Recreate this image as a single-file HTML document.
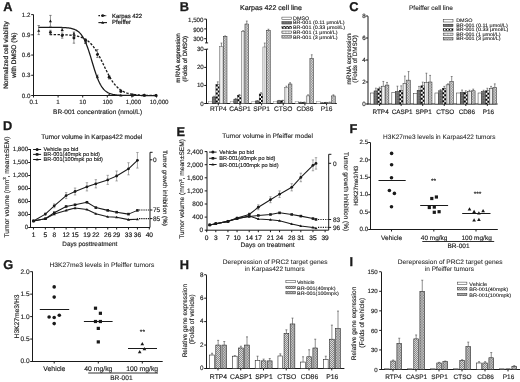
<!DOCTYPE html>
<html><head><meta charset="utf-8"><title>BR-001 figure</title>
<style>html,body{margin:0;padding:0;background:#fff;width:520px;height:382px;overflow:hidden}svg{display:block}</style>
</head><body>
<svg width="520" height="382" viewBox="0 0 520 382" font-family="&apos;Liberation Sans&apos;, Arial, Helvetica, sans-serif" fill="#1a1a1a" text-rendering="geometricPrecision"><style>text{stroke:#1a1a1a;stroke-width:0.14;paint-order:stroke}</style><defs>
<pattern id="p011" width="1.6" height="1.6" patternUnits="userSpaceOnUse">
  <rect width="1.6" height="1.6" fill="#7a7a7a"/><rect width="0.8" height="0.8" fill="#555"/>
</pattern>
<pattern id="p033" width="3.0" height="3.4" patternUnits="userSpaceOnUse">
  <rect width="3.0" height="3.4" fill="#fff"/>
  <rect width="1.5" height="1.7" fill="#000"/><rect x="1.5" y="1.7" width="1.5" height="1.7" fill="#000"/>
</pattern>
<pattern id="p1" width="1.5" height="4" patternUnits="userSpaceOnUse">
  <rect width="1.5" height="4" fill="#f8f8f8"/><rect width="0.45" height="4" fill="#a8a8a8"/>
</pattern>
<pattern id="p3" width="1.6" height="1.6" patternUnits="userSpaceOnUse">
  <rect width="1.6" height="1.6" fill="#ececec"/><rect width="0.8" height="0.8" fill="#7c7c7c"/><rect x="0.8" y="0.8" width="0.8" height="0.8" fill="#7c7c7c"/>
</pattern>
<pattern id="pH2" width="2" height="2" patternUnits="userSpaceOnUse">
  <rect width="2" height="2" fill="#d8d8d8"/><path d="M0,2 L2,0" stroke="#555" stroke-width="0.6"/>
</pattern>
<pattern id="pH3" width="1.6" height="1.6" patternUnits="userSpaceOnUse">
  <rect width="1.6" height="1.6" fill="#dcdcdc"/><rect width="0.8" height="0.8" fill="#707070"/><rect x="0.8" y="0.8" width="0.8" height="0.8" fill="#707070"/>
</pattern>
</defs><rect width="520" height="382" fill="#fff"/><text x="3.2" y="11" font-size="12.8" style="stroke-width:0.3" font-weight="bold">A</text>
<line x1="33.5" y1="14.6" x2="33.5" y2="95.95" stroke="#1a1a1a" stroke-width="1"/>
<line x1="33.05" y1="95.5" x2="156.3" y2="95.5" stroke="#1a1a1a" stroke-width="1"/>
<line x1="31.2" y1="95.5" x2="33.5" y2="95.5" stroke="#1a1a1a" stroke-width="1"/>
<text x="30.4" y="97.5" font-size="6.2" text-anchor="end">0.0</text>
<line x1="31.2" y1="75.28" x2="33.5" y2="75.28" stroke="#1a1a1a" stroke-width="1"/>
<text x="30.4" y="77.28" font-size="6.2" text-anchor="end">0.3</text>
<line x1="31.2" y1="55.06" x2="33.5" y2="55.06" stroke="#1a1a1a" stroke-width="1"/>
<text x="30.4" y="57.06" font-size="6.2" text-anchor="end">0.6</text>
<line x1="31.2" y1="34.84" x2="33.5" y2="34.84" stroke="#1a1a1a" stroke-width="1"/>
<text x="30.4" y="36.84" font-size="6.2" text-anchor="end">0.9</text>
<line x1="31.2" y1="14.62" x2="33.5" y2="14.62" stroke="#1a1a1a" stroke-width="1"/>
<text x="30.4" y="16.62" font-size="6.2" text-anchor="end">1.2</text>
<line x1="33.5" y1="95.5" x2="33.5" y2="97.5" stroke="#1a1a1a" stroke-width="1"/>
<text x="33.8" y="103.7" font-size="6.2" text-anchor="middle">0.1</text>
<line x1="58.1" y1="95.5" x2="58.1" y2="97.5" stroke="#1a1a1a" stroke-width="1"/>
<text x="58.1" y="103.7" font-size="6.2" text-anchor="middle">1</text>
<line x1="82.7" y1="95.5" x2="82.7" y2="97.5" stroke="#1a1a1a" stroke-width="1"/>
<text x="82.7" y="103.7" font-size="6.2" text-anchor="middle">10</text>
<line x1="107.3" y1="95.5" x2="107.3" y2="97.5" stroke="#1a1a1a" stroke-width="1"/>
<text x="107.6" y="103.7" font-size="6.2" text-anchor="middle">100</text>
<line x1="131.9" y1="95.5" x2="131.9" y2="97.5" stroke="#1a1a1a" stroke-width="1"/>
<text x="133.5" y="103.7" font-size="6.2" text-anchor="middle">1,000</text>
<line x1="156.5" y1="95.5" x2="156.5" y2="97.5" stroke="#1a1a1a" stroke-width="1"/>
<text x="159.1" y="103.7" font-size="6.2" text-anchor="middle">10,000</text>
<text x="97.6" y="113.6" font-size="6.4" text-anchor="middle" textLength="89" lengthAdjust="spacingAndGlyphs">BR-001 concentration (nmol/L)</text>
<text x="8.3" y="55.1" font-size="6.5" style="stroke-width:0.22" text-anchor="middle" transform="rotate(-90 8.3 55.1)">Normalized cell viability</text>
<text x="16.3" y="55.1" font-size="6.55" style="stroke-width:0.22" text-anchor="middle" transform="rotate(-90 16.3 55.1)">with DMSO (%)</text>
<polyline points="38.42,27.29 39.26,27.29 40.09,27.29 40.93,27.29 41.77,27.29 42.6,27.3 43.44,27.3 44.27,27.3 45.11,27.3 45.95,27.3 46.78,27.3 47.62,27.3 48.46,27.3 49.29,27.31 50.13,27.31 50.97,27.31 51.8,27.32 52.64,27.32 53.48,27.33 54.31,27.33 55.15,27.34 55.98,27.35 56.82,27.36 57.66,27.37 58.49,27.39 59.33,27.4 60.17,27.42 61,27.44 61.84,27.47 62.68,27.5 63.51,27.54 64.35,27.59 65.18,27.64 66.02,27.7 66.86,27.77 67.69,27.86 68.53,27.96 69.37,28.08 70.2,28.22 71.04,28.38 71.88,28.57 72.71,28.79 73.55,29.06 74.39,29.36 75.22,29.72 76.06,30.13 76.89,30.62 77.73,31.18 78.57,31.83 79.4,32.57 80.24,33.43 81.08,34.41 81.91,35.53 82.75,36.8 83.59,38.23 84.42,39.82 85.26,41.59 86.09,43.54 86.93,45.66 87.77,47.95 88.6,50.39 89.44,52.97 90.28,55.65 91.11,58.4 91.95,61.2 92.79,64 93.62,66.76 94.46,69.45 95.3,72.04 96.13,74.51 96.97,76.82 97.8,78.96 98.64,80.93 99.48,82.73 100.31,84.35 101.15,85.8 101.99,87.09 102.82,88.23 103.66,89.23 104.5,90.1 105.33,90.87 106.17,91.53 107,92.1 107.84,92.59 108.68,93.02 109.51,93.38 110.35,93.7 111.19,93.96 112.02,94.19 112.86,94.39 113.7,94.55 114.53,94.69 115.37,94.82 116.21,94.92 117.04,95.01 117.88,95.08 118.71,95.14 119.55,95.2 120.39,95.24 121.22,95.28 122.06,95.31 122.9,95.34 123.73,95.37 124.57,95.39 125.41,95.4 126.24,95.42 127.08,95.43 127.91,95.44 128.75,95.45 129.59,95.46 130.42,95.46 131.26,95.47 132.1,95.47 132.93,95.48 133.77,95.48 134.61,95.48 135.44,95.49 136.28,95.49 137.12,95.49 137.95,95.49 138.79,95.49 139.62,95.49 140.46,95.5 141.3,95.5 142.13,95.5 142.97,95.5 143.81,95.5 144.64,95.5 145.48,95.5 146.32,95.5 147.15,95.5 147.99,95.5 148.82,95.5 149.66,95.5 150.5,95.5 151.33,95.5 152.17,95.5 153.01,95.5 153.84,95.5 154.68,95.5 155.52,95.5" fill="none" stroke="#1a1a1a" stroke-width="1.25" stroke-linejoin="round"/>
<polyline points="49.74,34.54 50.63,34.55 51.52,34.55 52.41,34.56 53.3,34.57 54.19,34.58 55.08,34.59 55.97,34.6 56.86,34.61 57.75,34.62 58.64,34.64 59.53,34.66 60.42,34.68 61.31,34.7 62.2,34.72 63.09,34.75 63.98,34.78 64.87,34.82 65.77,34.86 66.66,34.9 67.55,34.95 68.44,35.01 69.33,35.08 70.22,35.15 71.11,35.23 72,35.32 72.89,35.43 73.78,35.54 74.67,35.68 75.56,35.82 76.45,35.99 77.34,36.17 78.23,36.38 79.12,36.62 80.01,36.88 80.9,37.17 81.79,37.49 82.69,37.86 83.58,38.26 84.47,38.71 85.36,39.21 86.25,39.76 87.14,40.37 88.03,41.05 88.92,41.79 89.81,42.6 90.7,43.48 91.59,44.45 92.48,45.5 93.37,46.63 94.26,47.85 95.15,49.15 96.04,50.54 96.93,52 97.82,53.55 98.71,55.17 99.61,56.85 100.5,58.59 101.39,60.37 102.28,62.19 103.17,64.02 104.06,65.86 104.95,67.7 105.84,69.52 106.73,71.3 107.62,73.04 108.51,74.73 109.4,76.35 110.29,77.9 111.18,79.38 112.07,80.77 112.96,82.08 113.85,83.3 114.74,84.44 115.63,85.49 116.53,86.46 117.42,87.35 118.31,88.17 119.2,88.91 120.09,89.59 120.98,90.2 121.87,90.76 122.76,91.26 123.65,91.71 124.54,92.12 125.43,92.49 126.32,92.82 127.21,93.11 128.1,93.37 128.99,93.61 129.88,93.82 130.77,94 131.66,94.17 132.55,94.32 133.44,94.45 134.34,94.57 135.23,94.67 136.12,94.77 137.01,94.85 137.9,94.92 138.79,94.99 139.68,95.05 140.57,95.1 141.46,95.14 142.35,95.18 143.24,95.22 144.13,95.25 145.02,95.28 145.91,95.3 146.8,95.33 147.69,95.35 148.58,95.36 149.47,95.38 150.36,95.39 151.26,95.4 152.15,95.42 153.04,95.43 153.93,95.43 154.82,95.44 155.71,95.45 156.6,95.45" fill="none" stroke="#1a1a1a" stroke-width="1.35" stroke-dasharray="2.4,1.5" stroke-linejoin="round"/>
<line x1="38.7" y1="30.75" x2="38.7" y2="25.5" stroke="#444" stroke-width="0.6"/>
<line x1="37.5" y1="25.5" x2="39.9" y2="25.5" stroke="#444" stroke-width="0.6"/>
<line x1="38.7" y1="30.75" x2="38.7" y2="34.6" stroke="#444" stroke-width="0.6"/>
<line x1="37.5" y1="34.6" x2="39.9" y2="34.6" stroke="#444" stroke-width="0.6"/>
<polygon points="38.7,29.13 37.15,31.83 40.25,31.83" fill="#1a1a1a"/>
<line x1="50.44" y1="21.1" x2="50.44" y2="15.4" stroke="#444" stroke-width="0.6"/>
<line x1="49.24" y1="15.4" x2="51.64" y2="15.4" stroke="#444" stroke-width="0.6"/>
<line x1="50.44" y1="21.1" x2="50.44" y2="26.4" stroke="#444" stroke-width="0.6"/>
<line x1="49.24" y1="26.4" x2="51.64" y2="26.4" stroke="#444" stroke-width="0.6"/>
<polygon points="50.44,19.48 48.89,22.18 51.99,22.18" fill="#1a1a1a"/>
<line x1="62.18" y1="29.8" x2="62.18" y2="28" stroke="#444" stroke-width="0.6"/>
<line x1="60.98" y1="28" x2="63.38" y2="28" stroke="#444" stroke-width="0.6"/>
<line x1="62.18" y1="29.8" x2="62.18" y2="31" stroke="#444" stroke-width="0.6"/>
<line x1="60.98" y1="31" x2="63.38" y2="31" stroke="#444" stroke-width="0.6"/>
<polygon points="62.18,28.18 60.63,30.88 63.73,30.88" fill="#1a1a1a"/>
<line x1="73.92" y1="33.6" x2="73.92" y2="32" stroke="#444" stroke-width="0.6"/>
<line x1="72.72" y1="32" x2="75.12" y2="32" stroke="#444" stroke-width="0.6"/>
<line x1="73.92" y1="33.6" x2="73.92" y2="35" stroke="#444" stroke-width="0.6"/>
<line x1="72.72" y1="35" x2="75.12" y2="35" stroke="#444" stroke-width="0.6"/>
<polygon points="73.92,31.98 72.37,34.68 75.47,34.68" fill="#1a1a1a"/>
<line x1="85.66" y1="42.3" x2="85.66" y2="41" stroke="#444" stroke-width="0.6"/>
<line x1="84.46" y1="41" x2="86.86" y2="41" stroke="#444" stroke-width="0.6"/>
<line x1="85.66" y1="42.3" x2="85.66" y2="43.5" stroke="#444" stroke-width="0.6"/>
<line x1="84.46" y1="43.5" x2="86.86" y2="43.5" stroke="#444" stroke-width="0.6"/>
<polygon points="85.66,40.68 84.11,43.38 87.21,43.38" fill="#1a1a1a"/>
<line x1="97.4" y1="76.6" x2="97.4" y2="75" stroke="#444" stroke-width="0.6"/>
<line x1="96.2" y1="75" x2="98.6" y2="75" stroke="#444" stroke-width="0.6"/>
<line x1="97.4" y1="76.6" x2="97.4" y2="78" stroke="#444" stroke-width="0.6"/>
<line x1="96.2" y1="78" x2="98.6" y2="78" stroke="#444" stroke-width="0.6"/>
<polygon points="97.4,74.98 95.85,77.68 98.95,77.68" fill="#1a1a1a"/>
<polygon points="109.14,93.38 107.59,96.08 110.69,96.08" fill="#1a1a1a"/>
<polygon points="120.88,93.68 119.33,96.38 122.43,96.38" fill="#1a1a1a"/>
<polygon points="132.62,93.78 131.07,96.48 134.17,96.48" fill="#1a1a1a"/>
<polygon points="144.36,93.78 142.81,96.48 145.91,96.48" fill="#1a1a1a"/>
<polygon points="156.1,93.78 154.55,96.48 157.65,96.48" fill="#1a1a1a"/>
<line x1="50.44" y1="32.4" x2="50.44" y2="30.3" stroke="#444" stroke-width="0.6"/>
<line x1="49.24" y1="30.3" x2="51.64" y2="30.3" stroke="#444" stroke-width="0.6"/>
<line x1="50.44" y1="32.4" x2="50.44" y2="34.5" stroke="#444" stroke-width="0.6"/>
<line x1="49.24" y1="34.5" x2="51.64" y2="34.5" stroke="#444" stroke-width="0.6"/>
<circle cx="50.44" cy="32.4" r="1.45" fill="#1a1a1a"/>
<line x1="62.18" y1="35.6" x2="62.18" y2="33" stroke="#444" stroke-width="0.6"/>
<line x1="60.98" y1="33" x2="63.38" y2="33" stroke="#444" stroke-width="0.6"/>
<line x1="62.18" y1="35.6" x2="62.18" y2="38.2" stroke="#444" stroke-width="0.6"/>
<line x1="60.98" y1="38.2" x2="63.38" y2="38.2" stroke="#444" stroke-width="0.6"/>
<circle cx="62.18" cy="35.6" r="1.45" fill="#1a1a1a"/>
<line x1="73.92" y1="38" x2="73.92" y2="36.5" stroke="#444" stroke-width="0.6"/>
<line x1="72.72" y1="36.5" x2="75.12" y2="36.5" stroke="#444" stroke-width="0.6"/>
<line x1="73.92" y1="38" x2="73.92" y2="43.2" stroke="#444" stroke-width="0.6"/>
<line x1="72.72" y1="43.2" x2="75.12" y2="43.2" stroke="#444" stroke-width="0.6"/>
<circle cx="73.92" cy="38" r="1.45" fill="#1a1a1a"/>
<line x1="85.66" y1="40.5" x2="85.66" y2="39" stroke="#444" stroke-width="0.6"/>
<line x1="84.46" y1="39" x2="86.86" y2="39" stroke="#444" stroke-width="0.6"/>
<line x1="85.66" y1="40.5" x2="85.66" y2="42" stroke="#444" stroke-width="0.6"/>
<line x1="84.46" y1="42" x2="86.86" y2="42" stroke="#444" stroke-width="0.6"/>
<circle cx="85.66" cy="40.5" r="1.45" fill="#1a1a1a"/>
<line x1="97.4" y1="54.6" x2="97.4" y2="49.5" stroke="#444" stroke-width="0.6"/>
<line x1="96.2" y1="49.5" x2="98.6" y2="49.5" stroke="#444" stroke-width="0.6"/>
<line x1="97.4" y1="54.6" x2="97.4" y2="57.5" stroke="#444" stroke-width="0.6"/>
<line x1="96.2" y1="57.5" x2="98.6" y2="57.5" stroke="#444" stroke-width="0.6"/>
<circle cx="97.4" cy="54.6" r="1.45" fill="#1a1a1a"/>
<line x1="109.14" y1="77.3" x2="109.14" y2="75.5" stroke="#444" stroke-width="0.6"/>
<line x1="107.94" y1="75.5" x2="110.34" y2="75.5" stroke="#444" stroke-width="0.6"/>
<line x1="109.14" y1="77.3" x2="109.14" y2="79" stroke="#444" stroke-width="0.6"/>
<line x1="107.94" y1="79" x2="110.34" y2="79" stroke="#444" stroke-width="0.6"/>
<circle cx="109.14" cy="77.3" r="1.45" fill="#1a1a1a"/>
<line x1="120.88" y1="91.3" x2="120.88" y2="90" stroke="#444" stroke-width="0.6"/>
<line x1="119.68" y1="90" x2="122.08" y2="90" stroke="#444" stroke-width="0.6"/>
<line x1="120.88" y1="91.3" x2="120.88" y2="92.5" stroke="#444" stroke-width="0.6"/>
<line x1="119.68" y1="92.5" x2="122.08" y2="92.5" stroke="#444" stroke-width="0.6"/>
<circle cx="120.88" cy="91.3" r="1.45" fill="#1a1a1a"/>
<circle cx="132.62" cy="95" r="1.45" fill="#1a1a1a"/>
<circle cx="144.36" cy="95.3" r="1.45" fill="#1a1a1a"/>
<circle cx="156.1" cy="95.4" r="1.45" fill="#1a1a1a"/>
<line x1="98.4" y1="15.7" x2="107" y2="15.7" stroke="#1a1a1a" stroke-width="1.2" stroke-dasharray="1.6,1.2"/>
<circle cx="102.7" cy="15.7" r="1.4" fill="#1a1a1a"/>
<line x1="98.4" y1="22.6" x2="107" y2="22.6" stroke="#1a1a1a" stroke-width="1.1"/>
<polygon points="102.7,21.03 101.2,23.64 104.2,23.64" fill="#1a1a1a"/>
<text x="112.1" y="17.7" font-size="6" style="stroke-width:0.2" textLength="30" lengthAdjust="spacingAndGlyphs">Karpas 422</text>
<text x="112.1" y="24.3" font-size="6" style="stroke-width:0.2">Pfeiffer</text>
<text x="179.8" y="11" font-size="12.8" style="stroke-width:0.3" font-weight="bold">B</text>
<text x="240" y="10" font-size="7" style="stroke-width:0.2" textLength="62" lengthAdjust="spacingAndGlyphs">Karpas 422 cell line</text>
<line x1="206.5" y1="19.1" x2="206.5" y2="42.9" stroke="#1a1a1a" stroke-width="1"/>
<line x1="205.1" y1="42.9" x2="208.1" y2="42.9" stroke="#1a1a1a" stroke-width="1"/>
<line x1="206.5" y1="49.1" x2="206.5" y2="103.95" stroke="#1a1a1a" stroke-width="1"/>
<line x1="206.5" y1="49.1" x2="208.1" y2="49.1" stroke="#1a1a1a" stroke-width="1"/>
<line x1="206.05" y1="103.5" x2="336.8" y2="103.5" stroke="#1a1a1a" stroke-width="1"/>
<line x1="204.2" y1="103.5" x2="206.5" y2="103.5" stroke="#1a1a1a" stroke-width="1"/>
<text x="203.8" y="105.5" font-size="6.2" text-anchor="end">0</text>
<line x1="204.2" y1="85.45" x2="206.5" y2="85.45" stroke="#1a1a1a" stroke-width="1"/>
<text x="203.8" y="87.45" font-size="6.2" text-anchor="end">10</text>
<line x1="204.2" y1="67.4" x2="206.5" y2="67.4" stroke="#1a1a1a" stroke-width="1"/>
<text x="203.8" y="69.4" font-size="6.2" text-anchor="end">20</text>
<line x1="204.2" y1="49.35" x2="206.5" y2="49.35" stroke="#1a1a1a" stroke-width="1"/>
<text x="203.8" y="51.35" font-size="6.2" text-anchor="end">30</text>
<line x1="204.2" y1="38.7" x2="206.5" y2="38.7" stroke="#1a1a1a" stroke-width="1"/>
<text x="203.5" y="41.3" font-size="6.2" text-anchor="end">300</text>
<line x1="204.2" y1="28.9" x2="206.5" y2="28.9" stroke="#1a1a1a" stroke-width="1"/>
<text x="203.5" y="31.5" font-size="6.2" text-anchor="end">900</text>
<line x1="204.2" y1="19.1" x2="206.5" y2="19.1" stroke="#1a1a1a" stroke-width="1"/>
<text x="203.5" y="21.7" font-size="6.2" text-anchor="end">1,500</text>
<text x="179.7" y="58" font-size="6.2" style="stroke-width:0.2" text-anchor="middle" transform="rotate(-90 179.7 58)">mRNA expression</text>
<text x="187.4" y="58.9" font-size="6.1" style="stroke-width:0.2" text-anchor="middle" transform="rotate(-90 187.4 58.9)">(Folds of DMSO)</text>
<rect x="208.5" y="101.69" width="3.7" height="1.81" fill="#ffffff" stroke="#888" stroke-width="0.45"/>
<rect x="212.2" y="97" width="3.7" height="6.5" fill="url(#p011)" stroke="#1a1a1a" stroke-width="0.45"/>
<line x1="214.05" y1="97" x2="214.05" y2="96.28" stroke="#444" stroke-width="0.6"/>
<line x1="213.15" y1="96.28" x2="214.95" y2="96.28" stroke="#444" stroke-width="0.6"/>
<rect x="215.9" y="84.55" width="3.7" height="18.95" fill="#fff"/>
<path d="M215.9 84.55h1.85v2h-1.85zM217.75 86.55h1.85v2h-1.85zM215.9 88.55h1.85v2h-1.85zM217.75 90.55h1.85v2h-1.85zM215.9 92.55h1.85v2h-1.85zM217.75 94.55h1.85v2h-1.85zM215.9 96.55h1.85v2h-1.85zM217.75 98.55h1.85v2h-1.85zM215.9 100.55h1.85v2h-1.85zM217.75 102.55h1.85v0.95h-1.85z" fill="#000"/>
<rect x="215.9" y="84.55" width="3.7" height="18.95" fill="none" stroke="#1a1a1a" stroke-width="0.45"/>
<line x1="217.75" y1="84.55" x2="217.75" y2="81.84" stroke="#444" stroke-width="0.6"/>
<line x1="216.85" y1="81.84" x2="218.65" y2="81.84" stroke="#444" stroke-width="0.6"/>
<rect x="219.6" y="46.64" width="3.7" height="56.86" fill="url(#p1)" stroke="#555" stroke-width="0.45"/>
<line x1="221.45" y1="46.64" x2="221.45" y2="43.06" stroke="#444" stroke-width="0.6"/>
<line x1="220.55" y1="43.06" x2="222.35" y2="43.06" stroke="#444" stroke-width="0.6"/>
<rect x="223.3" y="36.41" width="3.7" height="67.09" fill="url(#p3)" stroke="#1a1a1a" stroke-width="0.45"/>
<line x1="225.15" y1="36.41" x2="225.15" y2="35.92" stroke="#444" stroke-width="0.6"/>
<line x1="224.25" y1="35.92" x2="226.05" y2="35.92" stroke="#444" stroke-width="0.6"/>
<line x1="218.3" y1="103.5" x2="218.3" y2="105.4" stroke="#1a1a1a" stroke-width="1"/>
<text x="218.3" y="111.1" font-size="6.6" text-anchor="middle">RTP4</text>
<rect x="230.15" y="101.69" width="3.7" height="1.81" fill="#ffffff" stroke="#888" stroke-width="0.45"/>
<rect x="233.85" y="99.17" width="3.7" height="4.33" fill="url(#p011)" stroke="#1a1a1a" stroke-width="0.45"/>
<line x1="235.7" y1="99.17" x2="235.7" y2="98.45" stroke="#444" stroke-width="0.6"/>
<line x1="234.8" y1="98.45" x2="236.6" y2="98.45" stroke="#444" stroke-width="0.6"/>
<rect x="237.55" y="95.2" width="3.7" height="8.3" fill="#fff"/>
<path d="M237.55 95.2h1.85v2h-1.85zM239.4 97.2h1.85v2h-1.85zM237.55 99.2h1.85v2h-1.85zM239.4 101.2h1.85v2h-1.85zM237.55 103.2h1.85v0.3h-1.85z" fill="#000"/>
<rect x="237.55" y="95.2" width="3.7" height="8.3" fill="none" stroke="#1a1a1a" stroke-width="0.45"/>
<line x1="239.4" y1="95.2" x2="239.4" y2="94.47" stroke="#444" stroke-width="0.6"/>
<line x1="238.5" y1="94.47" x2="240.3" y2="94.47" stroke="#444" stroke-width="0.6"/>
<rect x="241.25" y="31.35" width="3.7" height="72.15" fill="url(#p1)" stroke="#555" stroke-width="0.45"/>
<line x1="243.1" y1="31.35" x2="243.1" y2="30.7" stroke="#444" stroke-width="0.6"/>
<line x1="242.2" y1="30.7" x2="244" y2="30.7" stroke="#444" stroke-width="0.6"/>
<rect x="244.95" y="24" width="3.7" height="79.5" fill="url(#p3)" stroke="#1a1a1a" stroke-width="0.45"/>
<line x1="246.8" y1="24" x2="246.8" y2="21.06" stroke="#444" stroke-width="0.6"/>
<line x1="245.9" y1="21.06" x2="247.7" y2="21.06" stroke="#444" stroke-width="0.6"/>
<line x1="239.95" y1="103.5" x2="239.95" y2="105.4" stroke="#1a1a1a" stroke-width="1"/>
<text x="239.95" y="111.1" font-size="6.6" text-anchor="middle">CASP1</text>
<rect x="251.8" y="101.69" width="3.7" height="1.81" fill="#ffffff" stroke="#888" stroke-width="0.45"/>
<rect x="255.5" y="100.97" width="3.7" height="2.53" fill="url(#p011)" stroke="#1a1a1a" stroke-width="0.45"/>
<line x1="257.35" y1="100.97" x2="257.35" y2="100.61" stroke="#444" stroke-width="0.6"/>
<line x1="256.45" y1="100.61" x2="258.25" y2="100.61" stroke="#444" stroke-width="0.6"/>
<rect x="259.2" y="93.93" width="3.7" height="9.57" fill="#fff"/>
<path d="M259.2 93.93h1.85v2h-1.85zM261.05 95.93h1.85v2h-1.85zM259.2 97.93h1.85v2h-1.85zM261.05 99.93h1.85v2h-1.85zM259.2 101.93h1.85v1.57h-1.85z" fill="#000"/>
<rect x="259.2" y="93.93" width="3.7" height="9.57" fill="none" stroke="#1a1a1a" stroke-width="0.45"/>
<line x1="261.05" y1="93.93" x2="261.05" y2="92.67" stroke="#444" stroke-width="0.6"/>
<line x1="260.15" y1="92.67" x2="261.95" y2="92.67" stroke="#444" stroke-width="0.6"/>
<rect x="262.9" y="47" width="3.7" height="56.5" fill="url(#p1)" stroke="#555" stroke-width="0.45"/>
<line x1="264.75" y1="47" x2="264.75" y2="43.04" stroke="#444" stroke-width="0.6"/>
<line x1="263.85" y1="43.04" x2="265.65" y2="43.04" stroke="#444" stroke-width="0.6"/>
<rect x="266.6" y="30.21" width="3.7" height="73.29" fill="url(#p3)" stroke="#1a1a1a" stroke-width="0.45"/>
<line x1="268.45" y1="30.21" x2="268.45" y2="29.23" stroke="#444" stroke-width="0.6"/>
<line x1="267.55" y1="29.23" x2="269.35" y2="29.23" stroke="#444" stroke-width="0.6"/>
<line x1="261.6" y1="103.5" x2="261.6" y2="105.4" stroke="#1a1a1a" stroke-width="1"/>
<text x="261.6" y="111.1" font-size="6.6" text-anchor="middle">SPP1</text>
<rect x="273.45" y="101.69" width="3.7" height="1.81" fill="#ffffff" stroke="#888" stroke-width="0.45"/>
<rect x="277.15" y="100.79" width="3.7" height="2.71" fill="url(#p011)" stroke="#1a1a1a" stroke-width="0.45"/>
<line x1="279" y1="100.79" x2="279" y2="100.43" stroke="#444" stroke-width="0.6"/>
<line x1="278.1" y1="100.43" x2="279.9" y2="100.43" stroke="#444" stroke-width="0.6"/>
<rect x="280.85" y="100.79" width="3.7" height="2.71" fill="#fff"/>
<path d="M280.85 100.79h1.85v2h-1.85zM282.7 102.79h1.85v0.71h-1.85z" fill="#000"/>
<rect x="280.85" y="100.79" width="3.7" height="2.71" fill="none" stroke="#1a1a1a" stroke-width="0.45"/>
<line x1="282.7" y1="100.79" x2="282.7" y2="100.25" stroke="#444" stroke-width="0.6"/>
<line x1="281.8" y1="100.25" x2="283.6" y2="100.25" stroke="#444" stroke-width="0.6"/>
<rect x="284.55" y="87.25" width="3.7" height="16.25" fill="url(#p1)" stroke="#555" stroke-width="0.45"/>
<line x1="286.4" y1="87.25" x2="286.4" y2="86.17" stroke="#444" stroke-width="0.6"/>
<line x1="285.5" y1="86.17" x2="287.3" y2="86.17" stroke="#444" stroke-width="0.6"/>
<rect x="288.25" y="84.01" width="3.7" height="19.49" fill="url(#p3)" stroke="#1a1a1a" stroke-width="0.45"/>
<line x1="290.1" y1="84.01" x2="290.1" y2="82.74" stroke="#444" stroke-width="0.6"/>
<line x1="289.2" y1="82.74" x2="291" y2="82.74" stroke="#444" stroke-width="0.6"/>
<line x1="283.25" y1="103.5" x2="283.25" y2="105.4" stroke="#1a1a1a" stroke-width="1"/>
<text x="283.25" y="111.1" font-size="6.6" text-anchor="middle">CTSO</text>
<rect x="295.1" y="101.69" width="3.7" height="1.81" fill="#ffffff" stroke="#888" stroke-width="0.45"/>
<rect x="298.8" y="102.42" width="3.7" height="1.08" fill="url(#p011)" stroke="#1a1a1a" stroke-width="0.45"/>
<line x1="300.65" y1="102.42" x2="300.65" y2="102.06" stroke="#444" stroke-width="0.6"/>
<line x1="299.75" y1="102.06" x2="301.55" y2="102.06" stroke="#444" stroke-width="0.6"/>
<rect x="302.5" y="102.42" width="3.7" height="1.08" fill="#fff"/>
<path d="M302.5 102.42h1.85v1.08h-1.85z" fill="#000"/>
<rect x="302.5" y="102.42" width="3.7" height="1.08" fill="none" stroke="#1a1a1a" stroke-width="0.45"/>
<line x1="304.35" y1="102.42" x2="304.35" y2="102.06" stroke="#444" stroke-width="0.6"/>
<line x1="303.45" y1="102.06" x2="305.25" y2="102.06" stroke="#444" stroke-width="0.6"/>
<rect x="306.2" y="95.92" width="3.7" height="7.58" fill="url(#p1)" stroke="#555" stroke-width="0.45"/>
<line x1="308.05" y1="95.92" x2="308.05" y2="94.84" stroke="#444" stroke-width="0.6"/>
<line x1="307.15" y1="94.84" x2="308.95" y2="94.84" stroke="#444" stroke-width="0.6"/>
<rect x="309.9" y="58.38" width="3.7" height="45.12" fill="url(#p3)" stroke="#1a1a1a" stroke-width="0.45"/>
<line x1="311.75" y1="58.38" x2="311.75" y2="54.77" stroke="#444" stroke-width="0.6"/>
<line x1="310.85" y1="54.77" x2="312.65" y2="54.77" stroke="#444" stroke-width="0.6"/>
<line x1="304.9" y1="103.5" x2="304.9" y2="105.4" stroke="#1a1a1a" stroke-width="1"/>
<text x="304.9" y="111.1" font-size="6.6" text-anchor="middle">CD86</text>
<rect x="316.75" y="101.69" width="3.7" height="1.81" fill="#ffffff" stroke="#888" stroke-width="0.45"/>
<rect x="320.45" y="102.96" width="3.7" height="0.54" fill="url(#p011)" stroke="#1a1a1a" stroke-width="0.45"/>
<line x1="322.3" y1="102.96" x2="322.3" y2="102.6" stroke="#444" stroke-width="0.6"/>
<line x1="321.4" y1="102.6" x2="323.2" y2="102.6" stroke="#444" stroke-width="0.6"/>
<rect x="324.15" y="102.6" width="3.7" height="0.9" fill="#fff"/>
<path d="M324.15 102.6h1.85v0.9h-1.85z" fill="#000"/>
<rect x="324.15" y="102.6" width="3.7" height="0.9" fill="none" stroke="#1a1a1a" stroke-width="0.45"/>
<line x1="326" y1="102.6" x2="326" y2="102.42" stroke="#444" stroke-width="0.6"/>
<line x1="325.1" y1="102.42" x2="326.9" y2="102.42" stroke="#444" stroke-width="0.6"/>
<rect x="327.85" y="102.42" width="3.7" height="1.08" fill="url(#p1)" stroke="#555" stroke-width="0.45"/>
<line x1="329.7" y1="102.42" x2="329.7" y2="102.06" stroke="#444" stroke-width="0.6"/>
<line x1="328.8" y1="102.06" x2="330.6" y2="102.06" stroke="#444" stroke-width="0.6"/>
<rect x="331.55" y="95.92" width="3.7" height="7.58" fill="url(#p3)" stroke="#1a1a1a" stroke-width="0.45"/>
<line x1="333.4" y1="95.92" x2="333.4" y2="94.84" stroke="#444" stroke-width="0.6"/>
<line x1="332.5" y1="94.84" x2="334.3" y2="94.84" stroke="#444" stroke-width="0.6"/>
<line x1="326.55" y1="103.5" x2="326.55" y2="105.4" stroke="#1a1a1a" stroke-width="1"/>
<text x="326.55" y="111.1" font-size="6.6" text-anchor="middle">P16</text>
<rect x="281.9" y="17.1" width="9.8" height="2.4" fill="#ffffff" stroke="#1a1a1a" stroke-width="0.45"/>
<text x="0" y="0" font-size="4.9" transform="translate(293 20) scale(1.11 1)" style="stroke-width:0.1">DMSO</text>
<rect x="281.9" y="21.6" width="9.8" height="2.4" fill="url(#p011)" stroke="#1a1a1a" stroke-width="0.45"/>
<text x="0" y="0" font-size="4.9" transform="translate(293 24) scale(1.11 1)" style="stroke-width:0.1">BR-001 (0.11 μmol/L)</text>
<rect x="281.9" y="26.2" width="9.8" height="2.4" fill="url(#p033)" stroke="#1a1a1a" stroke-width="0.45"/>
<text x="0" y="0" font-size="4.9" transform="translate(293 29) scale(1.11 1)" style="stroke-width:0.1">BR-001 (0.33 μmol/L)</text>
<rect x="281.9" y="31" width="9.8" height="2.4" fill="url(#p1)" stroke="#1a1a1a" stroke-width="0.45"/>
<text x="0" y="0" font-size="4.9" transform="translate(293 34) scale(1.11 1)" style="stroke-width:0.1">BR-001 (1 μmol/L)</text>
<rect x="281.9" y="35.7" width="9.8" height="2.4" fill="url(#p3)" stroke="#1a1a1a" stroke-width="0.45"/>
<text x="0" y="0" font-size="4.9" transform="translate(293 38.5) scale(1.11 1)" style="stroke-width:0.1">BR-001 (3 μmol/L)</text>
<text x="349.35" y="11" font-size="12.8" style="stroke-width:0.3" font-weight="bold">C</text>
<text x="409" y="10" font-size="6.5" style="stroke-width:0.12" textLength="44" lengthAdjust="spacingAndGlyphs">Pfeiffer cell line</text>
<line x1="368" y1="16.2" x2="368" y2="104.45" stroke="#1a1a1a" stroke-width="1"/>
<line x1="367.55" y1="104" x2="497.6" y2="104" stroke="#1a1a1a" stroke-width="1"/>
<line x1="365.7" y1="104" x2="368" y2="104" stroke="#1a1a1a" stroke-width="1"/>
<text x="365.6" y="105.6" font-size="6.2" text-anchor="end">0</text>
<line x1="365.7" y1="82" x2="368" y2="82" stroke="#1a1a1a" stroke-width="1"/>
<text x="365.6" y="83.6" font-size="6.2" text-anchor="end">2</text>
<line x1="365.7" y1="60" x2="368" y2="60" stroke="#1a1a1a" stroke-width="1"/>
<text x="365.6" y="61.6" font-size="6.2" text-anchor="end">4</text>
<line x1="365.7" y1="38" x2="368" y2="38" stroke="#1a1a1a" stroke-width="1"/>
<text x="365.6" y="39.6" font-size="6.2" text-anchor="end">6</text>
<line x1="365.7" y1="16" x2="368" y2="16" stroke="#1a1a1a" stroke-width="1"/>
<text x="365.6" y="17.6" font-size="6.2" text-anchor="end">8</text>
<text x="350.7" y="58.9" font-size="6.4" text-anchor="middle" transform="rotate(-90 350.7 58.9)">mRNA expression</text>
<text x="356.9" y="58.9" font-size="6.35" text-anchor="middle" transform="rotate(-90 356.9 58.9)">(Folds of DMSO)</text>
<rect x="370.3" y="93" width="3.72" height="11" fill="#ffffff" stroke="#1a1a1a" stroke-width="0.45"/>
<rect x="374.02" y="90.91" width="3.72" height="13.09" fill="url(#p011)" stroke="#1a1a1a" stroke-width="0.45"/>
<line x1="375.88" y1="90.91" x2="375.88" y2="88.16" stroke="#444" stroke-width="0.6"/>
<line x1="374.98" y1="88.16" x2="376.78" y2="88.16" stroke="#444" stroke-width="0.6"/>
<rect x="377.74" y="88.82" width="3.72" height="15.18" fill="#fff"/>
<path d="M377.74 88.82h1.86v2h-1.86zM379.6 90.82h1.86v2h-1.86zM377.74 92.82h1.86v2h-1.86zM379.6 94.82h1.86v2h-1.86zM377.74 96.82h1.86v2h-1.86zM379.6 98.82h1.86v2h-1.86zM377.74 100.82h1.86v2h-1.86zM379.6 102.82h1.86v1.18h-1.86z" fill="#000"/>
<rect x="377.74" y="88.82" width="3.72" height="15.18" fill="none" stroke="#1a1a1a" stroke-width="0.45"/>
<line x1="379.6" y1="88.82" x2="379.6" y2="87.17" stroke="#444" stroke-width="0.6"/>
<line x1="378.7" y1="87.17" x2="380.5" y2="87.17" stroke="#444" stroke-width="0.6"/>
<rect x="381.46" y="86.18" width="3.72" height="17.82" fill="url(#p1)" stroke="#1a1a1a" stroke-width="0.45"/>
<line x1="383.32" y1="86.18" x2="383.32" y2="81.45" stroke="#444" stroke-width="0.6"/>
<line x1="382.42" y1="81.45" x2="384.22" y2="81.45" stroke="#444" stroke-width="0.6"/>
<rect x="385.18" y="85.08" width="3.72" height="18.92" fill="url(#p3)" stroke="#1a1a1a" stroke-width="0.45"/>
<line x1="387.04" y1="85.08" x2="387.04" y2="82.44" stroke="#444" stroke-width="0.6"/>
<line x1="386.14" y1="82.44" x2="387.94" y2="82.44" stroke="#444" stroke-width="0.6"/>
<line x1="379.6" y1="104" x2="379.6" y2="105.9" stroke="#1a1a1a" stroke-width="1"/>
<text x="380.6" y="113.6" font-size="6.4" text-anchor="middle">RTP4</text>
<rect x="391.85" y="92.45" width="3.72" height="11.55" fill="#ffffff" stroke="#1a1a1a" stroke-width="0.45"/>
<rect x="395.57" y="91.46" width="3.72" height="12.54" fill="url(#p011)" stroke="#1a1a1a" stroke-width="0.45"/>
<line x1="397.43" y1="91.46" x2="397.43" y2="86.18" stroke="#444" stroke-width="0.6"/>
<line x1="396.53" y1="86.18" x2="398.33" y2="86.18" stroke="#444" stroke-width="0.6"/>
<rect x="399.29" y="90.25" width="3.72" height="13.75" fill="#fff"/>
<path d="M399.29 90.25h1.86v2h-1.86zM401.15 92.25h1.86v2h-1.86zM399.29 94.25h1.86v2h-1.86zM401.15 96.25h1.86v2h-1.86zM399.29 98.25h1.86v2h-1.86zM401.15 100.25h1.86v2h-1.86zM399.29 102.25h1.86v1.75h-1.86z" fill="#000"/>
<rect x="399.29" y="90.25" width="3.72" height="13.75" fill="none" stroke="#1a1a1a" stroke-width="0.45"/>
<line x1="401.15" y1="90.25" x2="401.15" y2="85.85" stroke="#444" stroke-width="0.6"/>
<line x1="400.25" y1="85.85" x2="402.05" y2="85.85" stroke="#444" stroke-width="0.6"/>
<rect x="403.01" y="83.54" width="3.72" height="20.46" fill="url(#p1)" stroke="#1a1a1a" stroke-width="0.45"/>
<line x1="404.87" y1="83.54" x2="404.87" y2="76.06" stroke="#444" stroke-width="0.6"/>
<line x1="403.97" y1="76.06" x2="405.77" y2="76.06" stroke="#444" stroke-width="0.6"/>
<rect x="406.73" y="80.13" width="3.72" height="23.87" fill="url(#p3)" stroke="#1a1a1a" stroke-width="0.45"/>
<line x1="408.59" y1="80.13" x2="408.59" y2="71.55" stroke="#444" stroke-width="0.6"/>
<line x1="407.69" y1="71.55" x2="409.49" y2="71.55" stroke="#444" stroke-width="0.6"/>
<line x1="401.15" y1="104" x2="401.15" y2="105.9" stroke="#1a1a1a" stroke-width="1"/>
<text x="402.15" y="113.6" font-size="6.4" text-anchor="middle">CASP1</text>
<rect x="413.4" y="93.33" width="3.72" height="10.67" fill="#ffffff" stroke="#1a1a1a" stroke-width="0.45"/>
<rect x="417.12" y="90.25" width="3.72" height="13.75" fill="url(#p011)" stroke="#1a1a1a" stroke-width="0.45"/>
<line x1="418.98" y1="90.25" x2="418.98" y2="86.4" stroke="#444" stroke-width="0.6"/>
<line x1="418.08" y1="86.4" x2="419.88" y2="86.4" stroke="#444" stroke-width="0.6"/>
<rect x="420.84" y="85.85" width="3.72" height="18.15" fill="#fff"/>
<path d="M420.84 85.85h1.86v2h-1.86zM422.7 87.85h1.86v2h-1.86zM420.84 89.85h1.86v2h-1.86zM422.7 91.85h1.86v2h-1.86zM420.84 93.85h1.86v2h-1.86zM422.7 95.85h1.86v2h-1.86zM420.84 97.85h1.86v2h-1.86zM422.7 99.85h1.86v2h-1.86zM420.84 101.85h1.86v2h-1.86zM422.7 103.85h1.86v0.15h-1.86z" fill="#000"/>
<rect x="420.84" y="85.85" width="3.72" height="18.15" fill="none" stroke="#1a1a1a" stroke-width="0.45"/>
<line x1="422.7" y1="85.85" x2="422.7" y2="82.11" stroke="#444" stroke-width="0.6"/>
<line x1="421.8" y1="82.11" x2="423.6" y2="82.11" stroke="#444" stroke-width="0.6"/>
<rect x="424.56" y="82.77" width="3.72" height="21.23" fill="url(#p1)" stroke="#1a1a1a" stroke-width="0.45"/>
<line x1="426.42" y1="82.77" x2="426.42" y2="73.2" stroke="#444" stroke-width="0.6"/>
<line x1="425.52" y1="73.2" x2="427.32" y2="73.2" stroke="#444" stroke-width="0.6"/>
<rect x="428.28" y="82" width="3.72" height="22" fill="url(#p3)" stroke="#1a1a1a" stroke-width="0.45"/>
<line x1="430.14" y1="82" x2="430.14" y2="75.4" stroke="#444" stroke-width="0.6"/>
<line x1="429.24" y1="75.4" x2="431.04" y2="75.4" stroke="#444" stroke-width="0.6"/>
<line x1="422.7" y1="104" x2="422.7" y2="105.9" stroke="#1a1a1a" stroke-width="1"/>
<text x="423.7" y="113.6" font-size="6.4" text-anchor="middle">SPP1</text>
<rect x="434.95" y="93" width="3.72" height="11" fill="#ffffff" stroke="#1a1a1a" stroke-width="0.45"/>
<rect x="438.67" y="90.8" width="3.72" height="13.2" fill="url(#p011)" stroke="#1a1a1a" stroke-width="0.45"/>
<line x1="440.53" y1="90.8" x2="440.53" y2="89.7" stroke="#444" stroke-width="0.6"/>
<line x1="439.63" y1="89.7" x2="441.43" y2="89.7" stroke="#444" stroke-width="0.6"/>
<rect x="442.39" y="88.27" width="3.72" height="15.73" fill="#fff"/>
<path d="M442.39 88.27h1.86v2h-1.86zM444.25 90.27h1.86v2h-1.86zM442.39 92.27h1.86v2h-1.86zM444.25 94.27h1.86v2h-1.86zM442.39 96.27h1.86v2h-1.86zM444.25 98.27h1.86v2h-1.86zM442.39 100.27h1.86v2h-1.86zM444.25 102.27h1.86v1.73h-1.86z" fill="#000"/>
<rect x="442.39" y="88.27" width="3.72" height="15.73" fill="none" stroke="#1a1a1a" stroke-width="0.45"/>
<line x1="444.25" y1="88.27" x2="444.25" y2="86.4" stroke="#444" stroke-width="0.6"/>
<line x1="443.35" y1="86.4" x2="445.15" y2="86.4" stroke="#444" stroke-width="0.6"/>
<rect x="446.11" y="84.86" width="3.72" height="19.14" fill="url(#p1)" stroke="#1a1a1a" stroke-width="0.45"/>
<line x1="447.97" y1="84.86" x2="447.97" y2="83.87" stroke="#444" stroke-width="0.6"/>
<line x1="447.07" y1="83.87" x2="448.87" y2="83.87" stroke="#444" stroke-width="0.6"/>
<rect x="449.83" y="81.45" width="3.72" height="22.55" fill="url(#p3)" stroke="#1a1a1a" stroke-width="0.45"/>
<line x1="451.69" y1="81.45" x2="451.69" y2="76.5" stroke="#444" stroke-width="0.6"/>
<line x1="450.79" y1="76.5" x2="452.59" y2="76.5" stroke="#444" stroke-width="0.6"/>
<line x1="444.25" y1="104" x2="444.25" y2="105.9" stroke="#1a1a1a" stroke-width="1"/>
<text x="445.25" y="113.6" font-size="6.4" text-anchor="middle">CTSO</text>
<rect x="456.5" y="93" width="3.72" height="11" fill="#ffffff" stroke="#1a1a1a" stroke-width="0.45"/>
<rect x="460.22" y="92.45" width="3.72" height="11.55" fill="url(#p011)" stroke="#1a1a1a" stroke-width="0.45"/>
<line x1="462.08" y1="92.45" x2="462.08" y2="90.03" stroke="#444" stroke-width="0.6"/>
<line x1="461.18" y1="90.03" x2="462.98" y2="90.03" stroke="#444" stroke-width="0.6"/>
<rect x="463.94" y="92.45" width="3.72" height="11.55" fill="#fff"/>
<path d="M463.94 92.45h1.86v2h-1.86zM465.8 94.45h1.86v2h-1.86zM463.94 96.45h1.86v2h-1.86zM465.8 98.45h1.86v2h-1.86zM463.94 100.45h1.86v2h-1.86zM465.8 102.45h1.86v1.55h-1.86z" fill="#000"/>
<rect x="463.94" y="92.45" width="3.72" height="11.55" fill="none" stroke="#1a1a1a" stroke-width="0.45"/>
<line x1="465.8" y1="92.45" x2="465.8" y2="90.8" stroke="#444" stroke-width="0.6"/>
<line x1="464.9" y1="90.8" x2="466.7" y2="90.8" stroke="#444" stroke-width="0.6"/>
<rect x="467.66" y="91.35" width="3.72" height="12.65" fill="url(#p1)" stroke="#1a1a1a" stroke-width="0.45"/>
<line x1="469.52" y1="91.35" x2="469.52" y2="90.25" stroke="#444" stroke-width="0.6"/>
<line x1="468.62" y1="90.25" x2="470.42" y2="90.25" stroke="#444" stroke-width="0.6"/>
<rect x="471.38" y="90.8" width="3.72" height="13.2" fill="url(#p3)" stroke="#1a1a1a" stroke-width="0.45"/>
<line x1="473.24" y1="90.8" x2="473.24" y2="89.15" stroke="#444" stroke-width="0.6"/>
<line x1="472.34" y1="89.15" x2="474.14" y2="89.15" stroke="#444" stroke-width="0.6"/>
<line x1="465.8" y1="104" x2="465.8" y2="105.9" stroke="#1a1a1a" stroke-width="1"/>
<text x="466.8" y="113.6" font-size="6.4" text-anchor="middle">CD86</text>
<rect x="478.05" y="93" width="3.72" height="11" fill="#ffffff" stroke="#1a1a1a" stroke-width="0.45"/>
<rect x="481.77" y="91.57" width="3.72" height="12.43" fill="url(#p011)" stroke="#1a1a1a" stroke-width="0.45"/>
<line x1="483.63" y1="91.57" x2="483.63" y2="90.25" stroke="#444" stroke-width="0.6"/>
<line x1="482.73" y1="90.25" x2="484.53" y2="90.25" stroke="#444" stroke-width="0.6"/>
<rect x="485.49" y="90.8" width="3.72" height="13.2" fill="#fff"/>
<path d="M485.49 90.8h1.86v2h-1.86zM487.35 92.8h1.86v2h-1.86zM485.49 94.8h1.86v2h-1.86zM487.35 96.8h1.86v2h-1.86zM485.49 98.8h1.86v2h-1.86zM487.35 100.8h1.86v2h-1.86zM485.49 102.8h1.86v1.2h-1.86z" fill="#000"/>
<rect x="485.49" y="90.8" width="3.72" height="13.2" fill="none" stroke="#1a1a1a" stroke-width="0.45"/>
<line x1="487.35" y1="90.8" x2="487.35" y2="88.27" stroke="#444" stroke-width="0.6"/>
<line x1="486.45" y1="88.27" x2="488.25" y2="88.27" stroke="#444" stroke-width="0.6"/>
<rect x="489.21" y="88.6" width="3.72" height="15.4" fill="url(#p1)" stroke="#1a1a1a" stroke-width="0.45"/>
<line x1="491.07" y1="88.6" x2="491.07" y2="86.4" stroke="#444" stroke-width="0.6"/>
<line x1="490.17" y1="86.4" x2="491.97" y2="86.4" stroke="#444" stroke-width="0.6"/>
<rect x="492.93" y="87.5" width="3.72" height="16.5" fill="url(#p3)" stroke="#1a1a1a" stroke-width="0.45"/>
<line x1="494.79" y1="87.5" x2="494.79" y2="83.87" stroke="#444" stroke-width="0.6"/>
<line x1="493.89" y1="83.87" x2="495.69" y2="83.87" stroke="#444" stroke-width="0.6"/>
<line x1="487.35" y1="104" x2="487.35" y2="105.9" stroke="#1a1a1a" stroke-width="1"/>
<text x="488.35" y="113.6" font-size="6.4" text-anchor="middle">P16</text>
<rect x="443.2" y="19.6" width="9.8" height="2.4" fill="#ffffff" stroke="#1a1a1a" stroke-width="0.45"/>
<text x="0" y="0" font-size="4.9" transform="translate(456.2 22) scale(1.11 1)" style="stroke-width:0.1">DMSO</text>
<rect x="443.2" y="24.2" width="9.8" height="2.4" fill="url(#p011)" stroke="#1a1a1a" stroke-width="0.45"/>
<text x="0" y="0" font-size="4.9" transform="translate(456.2 27) scale(1.11 1)" style="stroke-width:0.1">BR-001 (0.11 μmol/L)</text>
<rect x="443.2" y="28.7" width="9.8" height="2.4" fill="url(#p033)" stroke="#1a1a1a" stroke-width="0.45"/>
<text x="0" y="0" font-size="4.9" transform="translate(456.2 31) scale(1.11 1)" style="stroke-width:0.1">BR-001 (0.33 μmol/L)</text>
<rect x="443.2" y="33.1" width="9.8" height="2.4" fill="url(#p1)" stroke="#1a1a1a" stroke-width="0.45"/>
<text x="0" y="0" font-size="4.9" transform="translate(456.2 36) scale(1.11 1)" style="stroke-width:0.1">BR-001 (1 μmol/L)</text>
<rect x="443.2" y="37.6" width="9.8" height="2.4" fill="url(#p3)" stroke="#1a1a1a" stroke-width="0.45"/>
<text x="0" y="0" font-size="4.9" transform="translate(456.2 40) scale(1.11 1)" style="stroke-width:0.1">BR-001 (3 μmol/L)</text>
<text x="3" y="130" font-size="12.8" style="stroke-width:0.3" font-weight="bold">D</text>
<text x="41.3" y="138.7" font-size="6.5" style="stroke-width:0.15" textLength="101" lengthAdjust="spacingAndGlyphs">Tumor volume in Karpas422 model</text>
<line x1="30.5" y1="149" x2="30.5" y2="227.95" stroke="#1a1a1a" stroke-width="1"/>
<line x1="30.05" y1="227.5" x2="150" y2="227.5" stroke="#1a1a1a" stroke-width="1"/>
<line x1="28.2" y1="227.5" x2="30.5" y2="227.5" stroke="#1a1a1a" stroke-width="1"/>
<text x="28.2" y="229.1" font-size="6.2" text-anchor="end">0</text>
<line x1="28.2" y1="214.5" x2="30.5" y2="214.5" stroke="#1a1a1a" stroke-width="1"/>
<text x="28.2" y="216.1" font-size="6.2" text-anchor="end">300</text>
<line x1="28.2" y1="201.5" x2="30.5" y2="201.5" stroke="#1a1a1a" stroke-width="1"/>
<text x="28.2" y="203.1" font-size="6.2" text-anchor="end">600</text>
<line x1="28.2" y1="188.5" x2="30.5" y2="188.5" stroke="#1a1a1a" stroke-width="1"/>
<text x="28.2" y="190.1" font-size="6.2" text-anchor="end">900</text>
<line x1="28.2" y1="175.5" x2="30.5" y2="175.5" stroke="#1a1a1a" stroke-width="1"/>
<text x="28.2" y="177.1" font-size="6.2" text-anchor="end">1,200</text>
<line x1="28.2" y1="162.5" x2="30.5" y2="162.5" stroke="#1a1a1a" stroke-width="1"/>
<text x="28.2" y="164.1" font-size="6.2" text-anchor="end">1,500</text>
<line x1="28.2" y1="149.5" x2="30.5" y2="149.5" stroke="#1a1a1a" stroke-width="1"/>
<text x="28.2" y="151.1" font-size="6.2" text-anchor="end">1,800</text>
<line x1="33.47" y1="227.5" x2="33.47" y2="229.5" stroke="#1a1a1a" stroke-width="1"/>
<text x="33.47" y="237" font-size="6.6" style="stroke-width:0.2" text-anchor="middle">1</text>
<line x1="45.35" y1="227.5" x2="45.35" y2="229.5" stroke="#1a1a1a" stroke-width="1"/>
<text x="45.35" y="237" font-size="6.6" style="stroke-width:0.2" text-anchor="middle">5</text>
<line x1="54.26" y1="227.5" x2="54.26" y2="229.5" stroke="#1a1a1a" stroke-width="1"/>
<text x="54.26" y="237" font-size="6.6" style="stroke-width:0.2" text-anchor="middle">8</text>
<line x1="66.14" y1="227.5" x2="66.14" y2="229.5" stroke="#1a1a1a" stroke-width="1"/>
<text x="66.14" y="237" font-size="6.6" style="stroke-width:0.2" text-anchor="middle">12</text>
<line x1="75.05" y1="227.5" x2="75.05" y2="229.5" stroke="#1a1a1a" stroke-width="1"/>
<text x="75.05" y="237" font-size="6.6" style="stroke-width:0.2" text-anchor="middle">15</text>
<line x1="86.93" y1="227.5" x2="86.93" y2="229.5" stroke="#1a1a1a" stroke-width="1"/>
<text x="86.93" y="237" font-size="6.6" style="stroke-width:0.2" text-anchor="middle">19</text>
<line x1="95.84" y1="227.5" x2="95.84" y2="229.5" stroke="#1a1a1a" stroke-width="1"/>
<text x="95.84" y="237" font-size="6.6" style="stroke-width:0.2" text-anchor="middle">22</text>
<line x1="107.72" y1="227.5" x2="107.72" y2="229.5" stroke="#1a1a1a" stroke-width="1"/>
<text x="107.72" y="237" font-size="6.6" style="stroke-width:0.2" text-anchor="middle">26</text>
<line x1="116.63" y1="227.5" x2="116.63" y2="229.5" stroke="#1a1a1a" stroke-width="1"/>
<text x="116.63" y="237" font-size="6.6" style="stroke-width:0.2" text-anchor="middle">29</text>
<line x1="128.51" y1="227.5" x2="128.51" y2="229.5" stroke="#1a1a1a" stroke-width="1"/>
<text x="128.51" y="237" font-size="6.6" style="stroke-width:0.2" text-anchor="middle">33</text>
<line x1="137.42" y1="227.5" x2="137.42" y2="229.5" stroke="#1a1a1a" stroke-width="1"/>
<text x="137.42" y="237" font-size="6.6" style="stroke-width:0.2" text-anchor="middle">36</text>
<line x1="149.3" y1="227.5" x2="149.3" y2="229.5" stroke="#1a1a1a" stroke-width="1"/>
<text x="149.3" y="237" font-size="6.6" style="stroke-width:0.2" text-anchor="middle">40</text>
<text x="89.8" y="246.2" font-size="6.3" text-anchor="middle" textLength="55" lengthAdjust="spacingAndGlyphs">Days posttreatment</text>
<text x="8.6" y="187" font-size="6.7" text-anchor="middle" transform="rotate(-90 8.6 187)">Tumor volume (mm<tspan font-size="4.36" dy="-2.2">3</tspan><tspan dy="2.2">, mean±SEM)</tspan></text>
<line x1="150" y1="152.3" x2="150" y2="227.5" stroke="#1a1a1a" stroke-width="1"/>
<line x1="150" y1="152.3" x2="152.6" y2="152.3" stroke="#1a1a1a" stroke-width="1"/>
<line x1="150" y1="159.8" x2="152.4" y2="159.8" stroke="#1a1a1a" stroke-width="1"/>
<text x="153" y="162.1" font-size="6.5">0</text>
<line x1="150" y1="210" x2="152.4" y2="210" stroke="#1a1a1a" stroke-width="1"/>
<text x="153" y="212.3" font-size="6.5">75</text>
<line x1="150" y1="218.6" x2="152.4" y2="218.6" stroke="#1a1a1a" stroke-width="1"/>
<text x="153" y="220.9" font-size="6.5">85</text>
<text x="162.7" y="188" font-size="6.2" style="stroke-width:0.15" text-anchor="middle" transform="rotate(90 162.7 188)">Tumor growth inhibition (%)</text>
<polyline points="33.47,221 45.35,214.11 54.26,205.83 66.14,195.61 75.05,191.49 86.93,186.81 95.84,183.78 107.72,179.88 116.63,175.98 128.51,168.78 137.42,160.29" fill="none" stroke="#1a1a1a" stroke-width="1.05" stroke-linejoin="round"/>
<line x1="33.47" y1="221" x2="33.47" y2="220.57" stroke="#666" stroke-width="0.55"/>
<line x1="32.27" y1="220.57" x2="34.67" y2="220.57" stroke="#666" stroke-width="0.55"/>
<line x1="33.47" y1="221" x2="33.47" y2="221.43" stroke="#666" stroke-width="0.55"/>
<line x1="32.27" y1="221.43" x2="34.67" y2="221.43" stroke="#666" stroke-width="0.55"/>
<circle cx="33.47" cy="221" r="1.4" fill="#1a1a1a"/>
<line x1="45.35" y1="214.11" x2="45.35" y2="213.03" stroke="#666" stroke-width="0.55"/>
<line x1="44.15" y1="213.03" x2="46.55" y2="213.03" stroke="#666" stroke-width="0.55"/>
<line x1="45.35" y1="214.11" x2="45.35" y2="215.19" stroke="#666" stroke-width="0.55"/>
<line x1="44.15" y1="215.19" x2="46.55" y2="215.19" stroke="#666" stroke-width="0.55"/>
<circle cx="45.35" cy="214.11" r="1.4" fill="#1a1a1a"/>
<line x1="54.26" y1="205.83" x2="54.26" y2="203.88" stroke="#666" stroke-width="0.55"/>
<line x1="53.06" y1="203.88" x2="55.46" y2="203.88" stroke="#666" stroke-width="0.55"/>
<line x1="54.26" y1="205.83" x2="54.26" y2="207.78" stroke="#666" stroke-width="0.55"/>
<line x1="53.06" y1="207.78" x2="55.46" y2="207.78" stroke="#666" stroke-width="0.55"/>
<circle cx="54.26" cy="205.83" r="1.4" fill="#1a1a1a"/>
<line x1="66.14" y1="195.61" x2="66.14" y2="192.57" stroke="#666" stroke-width="0.55"/>
<line x1="64.94" y1="192.57" x2="67.34" y2="192.57" stroke="#666" stroke-width="0.55"/>
<line x1="66.14" y1="195.61" x2="66.14" y2="198.64" stroke="#666" stroke-width="0.55"/>
<line x1="64.94" y1="198.64" x2="67.34" y2="198.64" stroke="#666" stroke-width="0.55"/>
<circle cx="66.14" cy="195.61" r="1.4" fill="#1a1a1a"/>
<line x1="75.05" y1="191.49" x2="75.05" y2="188.02" stroke="#666" stroke-width="0.55"/>
<line x1="73.85" y1="188.02" x2="76.25" y2="188.02" stroke="#666" stroke-width="0.55"/>
<line x1="75.05" y1="191.49" x2="75.05" y2="194.96" stroke="#666" stroke-width="0.55"/>
<line x1="73.85" y1="194.96" x2="76.25" y2="194.96" stroke="#666" stroke-width="0.55"/>
<circle cx="75.05" cy="191.49" r="1.4" fill="#1a1a1a"/>
<line x1="86.93" y1="186.81" x2="86.93" y2="182.69" stroke="#666" stroke-width="0.55"/>
<line x1="85.73" y1="182.69" x2="88.13" y2="182.69" stroke="#666" stroke-width="0.55"/>
<line x1="86.93" y1="186.81" x2="86.93" y2="190.93" stroke="#666" stroke-width="0.55"/>
<line x1="85.73" y1="190.93" x2="88.13" y2="190.93" stroke="#666" stroke-width="0.55"/>
<circle cx="86.93" cy="186.81" r="1.4" fill="#1a1a1a"/>
<line x1="95.84" y1="183.78" x2="95.84" y2="179.66" stroke="#666" stroke-width="0.55"/>
<line x1="94.64" y1="179.66" x2="97.04" y2="179.66" stroke="#666" stroke-width="0.55"/>
<line x1="95.84" y1="183.78" x2="95.84" y2="187.89" stroke="#666" stroke-width="0.55"/>
<line x1="94.64" y1="187.89" x2="97.04" y2="187.89" stroke="#666" stroke-width="0.55"/>
<circle cx="95.84" cy="183.78" r="1.4" fill="#1a1a1a"/>
<line x1="107.72" y1="179.88" x2="107.72" y2="175.33" stroke="#666" stroke-width="0.55"/>
<line x1="106.52" y1="175.33" x2="108.92" y2="175.33" stroke="#666" stroke-width="0.55"/>
<line x1="107.72" y1="179.88" x2="107.72" y2="184.43" stroke="#666" stroke-width="0.55"/>
<line x1="106.52" y1="184.43" x2="108.92" y2="184.43" stroke="#666" stroke-width="0.55"/>
<circle cx="107.72" cy="179.88" r="1.4" fill="#1a1a1a"/>
<line x1="116.63" y1="175.98" x2="116.63" y2="170.99" stroke="#666" stroke-width="0.55"/>
<line x1="115.43" y1="170.99" x2="117.83" y2="170.99" stroke="#666" stroke-width="0.55"/>
<line x1="116.63" y1="175.98" x2="116.63" y2="180.96" stroke="#666" stroke-width="0.55"/>
<line x1="115.43" y1="180.96" x2="117.83" y2="180.96" stroke="#666" stroke-width="0.55"/>
<circle cx="116.63" cy="175.98" r="1.4" fill="#1a1a1a"/>
<line x1="128.51" y1="168.78" x2="128.51" y2="162.72" stroke="#666" stroke-width="0.55"/>
<line x1="127.31" y1="162.72" x2="129.71" y2="162.72" stroke="#666" stroke-width="0.55"/>
<line x1="128.51" y1="168.78" x2="128.51" y2="174.85" stroke="#666" stroke-width="0.55"/>
<line x1="127.31" y1="174.85" x2="129.71" y2="174.85" stroke="#666" stroke-width="0.55"/>
<circle cx="128.51" cy="168.78" r="1.4" fill="#1a1a1a"/>
<line x1="137.42" y1="160.29" x2="137.42" y2="152.49" stroke="#666" stroke-width="0.55"/>
<line x1="136.22" y1="152.49" x2="138.62" y2="152.49" stroke="#666" stroke-width="0.55"/>
<line x1="137.42" y1="160.29" x2="137.42" y2="168.09" stroke="#666" stroke-width="0.55"/>
<line x1="136.22" y1="168.09" x2="138.62" y2="168.09" stroke="#666" stroke-width="0.55"/>
<circle cx="137.42" cy="160.29" r="1.4" fill="#1a1a1a"/>
<polyline points="33.47,221 45.35,218.7 54.26,212.72 66.14,206.48 75.05,204.79 86.93,202.28 95.84,207.61 107.72,210.38 116.63,212.2 128.51,214.11 137.42,210.38" fill="none" stroke="#1a1a1a" stroke-width="1.05" stroke-linejoin="round"/>
<rect x="32.17" y="219.7" width="2.6" height="2.6" fill="#1a1a1a"/>
<rect x="44.05" y="217.4" width="2.6" height="2.6" fill="#1a1a1a"/>
<rect x="52.96" y="211.42" width="2.6" height="2.6" fill="#1a1a1a"/>
<rect x="64.84" y="205.18" width="2.6" height="2.6" fill="#1a1a1a"/>
<rect x="73.75" y="203.49" width="2.6" height="2.6" fill="#1a1a1a"/>
<rect x="85.63" y="200.98" width="2.6" height="2.6" fill="#1a1a1a"/>
<rect x="94.54" y="206.31" width="2.6" height="2.6" fill="#1a1a1a"/>
<rect x="106.42" y="209.08" width="2.6" height="2.6" fill="#1a1a1a"/>
<rect x="115.33" y="210.9" width="2.6" height="2.6" fill="#1a1a1a"/>
<rect x="127.21" y="212.81" width="2.6" height="2.6" fill="#1a1a1a"/>
<rect x="136.12" y="209.08" width="2.6" height="2.6" fill="#1a1a1a"/>
<polyline points="33.47,221 45.35,218.83 54.26,214.11 66.14,210.38 75.05,208.09 86.93,209.52 95.84,213.81 107.72,216.8 116.63,217.32 128.51,219.61 137.42,219.22" fill="none" stroke="#1a1a1a" stroke-width="1.05" stroke-linejoin="round"/>
<polygon points="33.47,219.43 31.97,222.04 34.97,222.04" fill="#1a1a1a"/>
<polygon points="45.35,217.27 43.85,219.88 46.85,219.88" fill="#1a1a1a"/>
<polygon points="54.26,212.54 52.76,215.15 55.76,215.15" fill="#1a1a1a"/>
<polygon points="66.14,208.82 64.64,211.43 67.64,211.43" fill="#1a1a1a"/>
<polygon points="75.05,206.52 73.55,209.13 76.55,209.13" fill="#1a1a1a"/>
<polygon points="86.93,207.95 85.43,210.56 88.43,210.56" fill="#1a1a1a"/>
<polygon points="95.84,212.24 94.34,214.85 97.34,214.85" fill="#1a1a1a"/>
<polygon points="107.72,215.23 106.22,217.84 109.22,217.84" fill="#1a1a1a"/>
<polygon points="116.63,215.75 115.13,218.36 118.13,218.36" fill="#1a1a1a"/>
<polygon points="128.51,218.05 127.01,220.66 130.01,220.66" fill="#1a1a1a"/>
<polygon points="137.42,217.66 135.92,220.27 138.92,220.27" fill="#1a1a1a"/>
<line x1="139.02" y1="210" x2="150" y2="210" stroke="#1a1a1a" stroke-width="1.2" stroke-dasharray="1.3,0.9"/>
<line x1="139.02" y1="218.6" x2="150" y2="218.6" stroke="#1a1a1a" stroke-width="1.2" stroke-dasharray="1.3,0.9"/>
<line x1="33.1" y1="149.5" x2="41.1" y2="149.5" stroke="#1a1a1a" stroke-width="1"/>
<circle cx="37.1" cy="149.5" r="1.5" fill="#1a1a1a"/>
<text x="43.6" y="151.3" font-size="5.6">Vehicle po bid</text>
<line x1="33.1" y1="154.4" x2="41.1" y2="154.4" stroke="#1a1a1a" stroke-width="1"/>
<rect x="35.8" y="153.1" width="2.6" height="2.6" fill="#1a1a1a"/>
<text x="43.6" y="156.2" font-size="5.6">BR-001(40mpk po bid)</text>
<line x1="33.1" y1="159.5" x2="41.1" y2="159.5" stroke="#1a1a1a" stroke-width="1"/>
<polygon points="37.1,157.93 35.6,160.54 38.6,160.54" fill="#1a1a1a"/>
<text x="43.6" y="161.3" font-size="5.6">BR-001(100mpk po bid)</text>
<text x="176.5" y="136" font-size="12.8" style="stroke-width:0.3" font-weight="bold">E</text>
<text x="222.3" y="138" font-size="6.5" style="stroke-width:0.1" textLength="90.6" lengthAdjust="spacingAndGlyphs">Tumor volume in Pfeiffer model</text>
<line x1="207" y1="151.4" x2="207" y2="230.65" stroke="#1a1a1a" stroke-width="1"/>
<line x1="206.55" y1="230.2" x2="328.7" y2="230.2" stroke="#1a1a1a" stroke-width="1"/>
<line x1="204.7" y1="230.2" x2="207" y2="230.2" stroke="#1a1a1a" stroke-width="1"/>
<text x="203.2" y="232.4" font-size="6.5" text-anchor="end">0</text>
<line x1="204.7" y1="217.1" x2="207" y2="217.1" stroke="#1a1a1a" stroke-width="1"/>
<text x="203.2" y="219.3" font-size="6.5" text-anchor="end">400</text>
<line x1="204.7" y1="204" x2="207" y2="204" stroke="#1a1a1a" stroke-width="1"/>
<text x="203.2" y="206.2" font-size="6.5" text-anchor="end">800</text>
<line x1="204.7" y1="190.9" x2="207" y2="190.9" stroke="#1a1a1a" stroke-width="1"/>
<text x="203.2" y="193.1" font-size="6.5" text-anchor="end">1,200</text>
<line x1="204.7" y1="177.8" x2="207" y2="177.8" stroke="#1a1a1a" stroke-width="1"/>
<text x="203.2" y="180" font-size="6.5" text-anchor="end">1,600</text>
<line x1="204.7" y1="164.7" x2="207" y2="164.7" stroke="#1a1a1a" stroke-width="1"/>
<text x="203.2" y="166.9" font-size="6.5" text-anchor="end">2,000</text>
<line x1="204.7" y1="151.6" x2="207" y2="151.6" stroke="#1a1a1a" stroke-width="1"/>
<text x="203.2" y="153.8" font-size="6.5" text-anchor="end">2,400</text>
<line x1="206.7" y1="230.2" x2="206.7" y2="232.2" stroke="#1a1a1a" stroke-width="1"/>
<text x="206.7" y="240" font-size="6.6" style="stroke-width:0.2" text-anchor="middle">0</text>
<line x1="215.81" y1="230.2" x2="215.81" y2="232.2" stroke="#1a1a1a" stroke-width="1"/>
<text x="215.81" y="240" font-size="6.6" style="stroke-width:0.2" text-anchor="middle">3</text>
<line x1="227.95" y1="230.2" x2="227.95" y2="232.2" stroke="#1a1a1a" stroke-width="1"/>
<text x="227.95" y="240" font-size="6.6" style="stroke-width:0.2" text-anchor="middle">7</text>
<line x1="237.06" y1="230.2" x2="237.06" y2="232.2" stroke="#1a1a1a" stroke-width="1"/>
<text x="237.06" y="240" font-size="6.6" style="stroke-width:0.2" text-anchor="middle">10</text>
<line x1="249.2" y1="230.2" x2="249.2" y2="232.2" stroke="#1a1a1a" stroke-width="1"/>
<text x="249.2" y="240" font-size="6.6" style="stroke-width:0.2" text-anchor="middle">14</text>
<line x1="258.31" y1="230.2" x2="258.31" y2="232.2" stroke="#1a1a1a" stroke-width="1"/>
<text x="258.31" y="240" font-size="6.6" style="stroke-width:0.2" text-anchor="middle">17</text>
<line x1="270.46" y1="230.2" x2="270.46" y2="232.2" stroke="#1a1a1a" stroke-width="1"/>
<text x="270.46" y="240" font-size="6.6" style="stroke-width:0.2" text-anchor="middle">21</text>
<line x1="279.56" y1="230.2" x2="279.56" y2="232.2" stroke="#1a1a1a" stroke-width="1"/>
<text x="279.56" y="240" font-size="6.6" style="stroke-width:0.2" text-anchor="middle">24</text>
<line x1="291.71" y1="230.2" x2="291.71" y2="232.2" stroke="#1a1a1a" stroke-width="1"/>
<text x="291.71" y="240" font-size="6.6" style="stroke-width:0.2" text-anchor="middle">28</text>
<line x1="300.82" y1="230.2" x2="300.82" y2="232.2" stroke="#1a1a1a" stroke-width="1"/>
<text x="300.82" y="240" font-size="6.6" style="stroke-width:0.2" text-anchor="middle">31</text>
<line x1="312.96" y1="230.2" x2="312.96" y2="232.2" stroke="#1a1a1a" stroke-width="1"/>
<text x="312.96" y="240" font-size="6.6" style="stroke-width:0.2" text-anchor="middle">35</text>
<line x1="325.1" y1="230.2" x2="325.1" y2="232.2" stroke="#1a1a1a" stroke-width="1"/>
<text x="325.1" y="240" font-size="6.6" style="stroke-width:0.2" text-anchor="middle">39</text>
<text x="267.6" y="246.6" font-size="6.4" text-anchor="middle" textLength="54" lengthAdjust="spacingAndGlyphs">Days on treatment</text>
<text x="184" y="188.9" font-size="6.6" text-anchor="middle" transform="rotate(-90 184 188.9)">Tumor volume (mm<tspan font-size="4.29" dy="-2.2">3</tspan><tspan dy="2.2">, mean±SEM)</tspan></text>
<line x1="328.7" y1="154.3" x2="328.7" y2="230.2" stroke="#1a1a1a" stroke-width="1"/>
<line x1="328.7" y1="154.3" x2="331.4" y2="154.3" stroke="#1a1a1a" stroke-width="1"/>
<line x1="328.7" y1="163.3" x2="331.1" y2="163.3" stroke="#1a1a1a" stroke-width="1"/>
<text x="332.9" y="165.6" font-size="6.5">0</text>
<line x1="328.7" y1="219.5" x2="331.1" y2="219.5" stroke="#1a1a1a" stroke-width="1"/>
<text x="332.9" y="221.8" font-size="6.5">83</text>
<line x1="328.7" y1="227.4" x2="331.1" y2="227.4" stroke="#1a1a1a" stroke-width="1"/>
<text x="332.9" y="229.7" font-size="6.5">96</text>
<text x="344" y="191.6" font-size="6.5" style="stroke-width:0.15" text-anchor="middle" transform="rotate(90 344 191.6)">Tumor growth inhibition (%)</text>
<polyline points="209.74,224.96 215.81,223.65 227.95,221.36 237.06,218.08 249.2,214.48 258.31,207.27 270.46,199.74 279.56,194.17 291.71,187.3 300.82,177.47 312.96,165.35 316,163.39" fill="none" stroke="#1a1a1a" stroke-width="1.05" stroke-linejoin="round"/>
<line x1="209.74" y1="224.96" x2="209.74" y2="224.63" stroke="#666" stroke-width="0.55"/>
<line x1="208.54" y1="224.63" x2="210.94" y2="224.63" stroke="#666" stroke-width="0.55"/>
<line x1="209.74" y1="224.96" x2="209.74" y2="225.29" stroke="#666" stroke-width="0.55"/>
<line x1="208.54" y1="225.29" x2="210.94" y2="225.29" stroke="#666" stroke-width="0.55"/>
<circle cx="209.74" cy="224.96" r="1.4" fill="#1a1a1a"/>
<line x1="215.81" y1="223.65" x2="215.81" y2="223.16" stroke="#666" stroke-width="0.55"/>
<line x1="214.61" y1="223.16" x2="217.01" y2="223.16" stroke="#666" stroke-width="0.55"/>
<line x1="215.81" y1="223.65" x2="215.81" y2="224.14" stroke="#666" stroke-width="0.55"/>
<line x1="214.61" y1="224.14" x2="217.01" y2="224.14" stroke="#666" stroke-width="0.55"/>
<circle cx="215.81" cy="223.65" r="1.4" fill="#1a1a1a"/>
<line x1="227.95" y1="221.36" x2="227.95" y2="220.7" stroke="#666" stroke-width="0.55"/>
<line x1="226.75" y1="220.7" x2="229.15" y2="220.7" stroke="#666" stroke-width="0.55"/>
<line x1="227.95" y1="221.36" x2="227.95" y2="222.01" stroke="#666" stroke-width="0.55"/>
<line x1="226.75" y1="222.01" x2="229.15" y2="222.01" stroke="#666" stroke-width="0.55"/>
<circle cx="227.95" cy="221.36" r="1.4" fill="#1a1a1a"/>
<line x1="237.06" y1="218.08" x2="237.06" y2="217.1" stroke="#666" stroke-width="0.55"/>
<line x1="235.86" y1="217.1" x2="238.26" y2="217.1" stroke="#666" stroke-width="0.55"/>
<line x1="237.06" y1="218.08" x2="237.06" y2="219.06" stroke="#666" stroke-width="0.55"/>
<line x1="235.86" y1="219.06" x2="238.26" y2="219.06" stroke="#666" stroke-width="0.55"/>
<circle cx="237.06" cy="218.08" r="1.4" fill="#1a1a1a"/>
<line x1="249.2" y1="214.48" x2="249.2" y2="213.01" stroke="#666" stroke-width="0.55"/>
<line x1="248" y1="213.01" x2="250.4" y2="213.01" stroke="#666" stroke-width="0.55"/>
<line x1="249.2" y1="214.48" x2="249.2" y2="215.95" stroke="#666" stroke-width="0.55"/>
<line x1="248" y1="215.95" x2="250.4" y2="215.95" stroke="#666" stroke-width="0.55"/>
<circle cx="249.2" cy="214.48" r="1.4" fill="#1a1a1a"/>
<line x1="258.31" y1="207.27" x2="258.31" y2="204.82" stroke="#666" stroke-width="0.55"/>
<line x1="257.11" y1="204.82" x2="259.51" y2="204.82" stroke="#666" stroke-width="0.55"/>
<line x1="258.31" y1="207.27" x2="258.31" y2="209.73" stroke="#666" stroke-width="0.55"/>
<line x1="257.11" y1="209.73" x2="259.51" y2="209.73" stroke="#666" stroke-width="0.55"/>
<circle cx="258.31" cy="207.27" r="1.4" fill="#1a1a1a"/>
<line x1="270.46" y1="199.74" x2="270.46" y2="196.79" stroke="#666" stroke-width="0.55"/>
<line x1="269.26" y1="196.79" x2="271.66" y2="196.79" stroke="#666" stroke-width="0.55"/>
<line x1="270.46" y1="199.74" x2="270.46" y2="202.69" stroke="#666" stroke-width="0.55"/>
<line x1="269.26" y1="202.69" x2="271.66" y2="202.69" stroke="#666" stroke-width="0.55"/>
<circle cx="270.46" cy="199.74" r="1.4" fill="#1a1a1a"/>
<line x1="279.56" y1="194.17" x2="279.56" y2="190.9" stroke="#666" stroke-width="0.55"/>
<line x1="278.36" y1="190.9" x2="280.76" y2="190.9" stroke="#666" stroke-width="0.55"/>
<line x1="279.56" y1="194.17" x2="279.56" y2="197.45" stroke="#666" stroke-width="0.55"/>
<line x1="278.36" y1="197.45" x2="280.76" y2="197.45" stroke="#666" stroke-width="0.55"/>
<circle cx="279.56" cy="194.17" r="1.4" fill="#1a1a1a"/>
<line x1="291.71" y1="187.3" x2="291.71" y2="183.69" stroke="#666" stroke-width="0.55"/>
<line x1="290.51" y1="183.69" x2="292.91" y2="183.69" stroke="#666" stroke-width="0.55"/>
<line x1="291.71" y1="187.3" x2="291.71" y2="190.9" stroke="#666" stroke-width="0.55"/>
<line x1="290.51" y1="190.9" x2="292.91" y2="190.9" stroke="#666" stroke-width="0.55"/>
<circle cx="291.71" cy="187.3" r="1.4" fill="#1a1a1a"/>
<line x1="300.82" y1="177.47" x2="300.82" y2="173.21" stroke="#666" stroke-width="0.55"/>
<line x1="299.62" y1="173.21" x2="302.02" y2="173.21" stroke="#666" stroke-width="0.55"/>
<line x1="300.82" y1="177.47" x2="300.82" y2="181.73" stroke="#666" stroke-width="0.55"/>
<line x1="299.62" y1="181.73" x2="302.02" y2="181.73" stroke="#666" stroke-width="0.55"/>
<circle cx="300.82" cy="177.47" r="1.4" fill="#1a1a1a"/>
<line x1="312.96" y1="165.35" x2="312.96" y2="159.95" stroke="#666" stroke-width="0.55"/>
<line x1="311.76" y1="159.95" x2="314.16" y2="159.95" stroke="#666" stroke-width="0.55"/>
<line x1="312.96" y1="165.35" x2="312.96" y2="170.76" stroke="#666" stroke-width="0.55"/>
<line x1="311.76" y1="170.76" x2="314.16" y2="170.76" stroke="#666" stroke-width="0.55"/>
<circle cx="312.96" cy="165.35" r="1.4" fill="#1a1a1a"/>
<line x1="316" y1="163.39" x2="316" y2="157.66" stroke="#666" stroke-width="0.55"/>
<line x1="314.8" y1="157.66" x2="317.2" y2="157.66" stroke="#666" stroke-width="0.55"/>
<line x1="316" y1="163.39" x2="316" y2="169.12" stroke="#666" stroke-width="0.55"/>
<line x1="314.8" y1="169.12" x2="317.2" y2="169.12" stroke="#666" stroke-width="0.55"/>
<circle cx="316" cy="163.39" r="1.4" fill="#1a1a1a"/>
<polyline points="209.74,224.96 215.81,223.65 227.95,221.36 237.06,218.41 249.2,216.44 258.31,215.46 270.46,214.48 279.56,212.84 291.71,214.48 300.82,216.12 312.96,218.57 316,219.46" fill="none" stroke="#1a1a1a" stroke-width="1.05" stroke-linejoin="round"/>
<rect x="208.44" y="223.66" width="2.6" height="2.6" fill="#1a1a1a"/>
<rect x="214.51" y="222.35" width="2.6" height="2.6" fill="#1a1a1a"/>
<rect x="226.65" y="220.06" width="2.6" height="2.6" fill="#1a1a1a"/>
<rect x="235.76" y="217.11" width="2.6" height="2.6" fill="#1a1a1a"/>
<rect x="247.9" y="215.14" width="2.6" height="2.6" fill="#1a1a1a"/>
<rect x="257.01" y="214.16" width="2.6" height="2.6" fill="#1a1a1a"/>
<rect x="269.16" y="213.18" width="2.6" height="2.6" fill="#1a1a1a"/>
<rect x="278.26" y="211.54" width="2.6" height="2.6" fill="#1a1a1a"/>
<rect x="290.41" y="213.18" width="2.6" height="2.6" fill="#1a1a1a"/>
<rect x="299.52" y="214.82" width="2.6" height="2.6" fill="#1a1a1a"/>
<rect x="311.66" y="217.27" width="2.6" height="2.6" fill="#1a1a1a"/>
<rect x="314.7" y="218.16" width="2.6" height="2.6" fill="#1a1a1a"/>
<polyline points="209.74,224.96 215.81,223.65 227.95,221.36 237.06,218.74 249.2,216.12 258.31,219.06 270.46,219.72 279.56,220.7 291.71,223.98 300.82,225.94 312.96,227.42 316,228.23" fill="none" stroke="#1a1a1a" stroke-width="1.05" stroke-linejoin="round"/>
<polygon points="209.74,223.39 208.24,226 211.24,226" fill="#1a1a1a"/>
<polygon points="215.81,222.08 214.31,224.69 217.31,224.69" fill="#1a1a1a"/>
<polygon points="227.95,219.79 226.45,222.4 229.45,222.4" fill="#1a1a1a"/>
<polygon points="237.06,217.17 235.56,219.78 238.56,219.78" fill="#1a1a1a"/>
<polygon points="249.2,214.55 247.7,217.16 250.7,217.16" fill="#1a1a1a"/>
<polygon points="258.31,217.5 256.81,220.11 259.81,220.11" fill="#1a1a1a"/>
<polygon points="270.46,218.15 268.96,220.76 271.96,220.76" fill="#1a1a1a"/>
<polygon points="279.56,219.14 278.06,221.75 281.06,221.75" fill="#1a1a1a"/>
<polygon points="291.71,222.41 290.21,225.02 293.21,225.02" fill="#1a1a1a"/>
<polygon points="300.82,224.38 299.32,226.99 302.32,226.99" fill="#1a1a1a"/>
<polygon points="312.96,225.85 311.46,228.46 314.46,228.46" fill="#1a1a1a"/>
<polygon points="316,226.67 314.5,229.28 317.5,229.28" fill="#1a1a1a"/>
<line x1="318" y1="219.5" x2="328.7" y2="219.5" stroke="#1a1a1a" stroke-width="1.2" stroke-dasharray="1.2,1.2"/>
<line x1="318" y1="227.4" x2="328.7" y2="227.4" stroke="#1a1a1a" stroke-width="1.2" stroke-dasharray="1.2,1.2"/>
<line x1="209.1" y1="152.1" x2="216.6" y2="152.1" stroke="#1a1a1a" stroke-width="1"/>
<circle cx="212.9" cy="152.1" r="1.5" fill="#1a1a1a"/>
<text x="219.2" y="154.1" font-size="5.6">Vehicle po bid</text>
<line x1="209.1" y1="158.3" x2="216.6" y2="158.3" stroke="#1a1a1a" stroke-width="1"/>
<rect x="211.6" y="157" width="2.6" height="2.6" fill="#1a1a1a"/>
<text x="219.2" y="160.3" font-size="5.6">BR-001(40mpk po bid)</text>
<line x1="209.1" y1="164.5" x2="216.6" y2="164.5" stroke="#1a1a1a" stroke-width="1"/>
<polygon points="212.9,162.93 211.4,165.54 214.4,165.54" fill="#1a1a1a"/>
<text x="219.2" y="166.5" font-size="5.6">BR-001(100mpk po bid)</text>
<text x="349.5" y="133.4" font-size="12.8" style="stroke-width:0.3" font-weight="bold">F</text>
<text x="383.1" y="138.8" font-size="6.45" style="stroke-width:0.05" textLength="112.4" lengthAdjust="spacingAndGlyphs">H3K27me3 levels in Karpas422 tumors</text>
<line x1="370.5" y1="142.6" x2="370.5" y2="229.95" stroke="#1a1a1a" stroke-width="1"/>
<line x1="370.05" y1="229.5" x2="497.8" y2="229.5" stroke="#1a1a1a" stroke-width="1"/>
<line x1="368.2" y1="229.5" x2="370.5" y2="229.5" stroke="#1a1a1a" stroke-width="1"/>
<text x="368.2" y="231.2" font-size="6.2" text-anchor="end">0.0</text>
<line x1="368.2" y1="212.1" x2="370.5" y2="212.1" stroke="#1a1a1a" stroke-width="1"/>
<text x="368.2" y="213.8" font-size="6.2" text-anchor="end">0.5</text>
<line x1="368.2" y1="194.7" x2="370.5" y2="194.7" stroke="#1a1a1a" stroke-width="1"/>
<text x="368.2" y="196.4" font-size="6.2" text-anchor="end">1.0</text>
<line x1="368.2" y1="177.3" x2="370.5" y2="177.3" stroke="#1a1a1a" stroke-width="1"/>
<text x="368.2" y="179" font-size="6.2" text-anchor="end">1.5</text>
<line x1="368.2" y1="159.9" x2="370.5" y2="159.9" stroke="#1a1a1a" stroke-width="1"/>
<text x="368.2" y="161.6" font-size="6.2" text-anchor="end">2.0</text>
<line x1="368.2" y1="142.5" x2="370.5" y2="142.5" stroke="#1a1a1a" stroke-width="1"/>
<text x="368.2" y="144.2" font-size="6.2" text-anchor="end">2.5</text>
<text x="358.4" y="185.8" font-size="6.1" text-anchor="middle" transform="rotate(-90 358.4 185.8)">H3K27me3/H3</text>
<line x1="391.5" y1="229.5" x2="391.5" y2="231.5" stroke="#1a1a1a" stroke-width="1"/>
<line x1="433.8" y1="229.5" x2="433.8" y2="231.5" stroke="#1a1a1a" stroke-width="1"/>
<line x1="476" y1="229.5" x2="476" y2="231.5" stroke="#1a1a1a" stroke-width="1"/>
<text x="391.6" y="239.9" font-size="6.6" text-anchor="middle">Vehicle</text>
<text x="434.1" y="239.9" font-size="6.45" text-anchor="middle">40 mg/kg</text>
<text x="476.6" y="239.9" font-size="6.5" text-anchor="middle">100 mg/kg</text>
<line x1="422.3" y1="241.5" x2="494.2" y2="241.5" stroke="#1a1a1a" stroke-width="0.9"/>
<text x="458.5" y="248.3" font-size="6.5" text-anchor="middle">BR-001</text>
<circle cx="391.6" cy="153.4" r="1.8" fill="#1a1a1a"/>
<circle cx="391.6" cy="164.8" r="1.8" fill="#1a1a1a"/>
<circle cx="391.5" cy="177.8" r="1.8" fill="#1a1a1a"/>
<circle cx="389.4" cy="190.5" r="1.8" fill="#1a1a1a"/>
<circle cx="394.4" cy="193.4" r="1.8" fill="#1a1a1a"/>
<circle cx="391.5" cy="206.8" r="1.8" fill="#1a1a1a"/>
<line x1="378.5" y1="180.5" x2="405.7" y2="180.5" stroke="#1a1a1a" stroke-width="1"/>
<rect x="430.2" y="196.9" width="3.2" height="3.2" fill="#1a1a1a"/>
<rect x="434.8" y="195.4" width="3.2" height="3.2" fill="#1a1a1a"/>
<rect x="427.7" y="205.9" width="3.2" height="3.2" fill="#1a1a1a"/>
<rect x="432.7" y="205.5" width="3.2" height="3.2" fill="#1a1a1a"/>
<rect x="432.7" y="210.7" width="3.2" height="3.2" fill="#1a1a1a"/>
<rect x="437.5" y="210.1" width="3.2" height="3.2" fill="#1a1a1a"/>
<line x1="420.2" y1="205.5" x2="448.1" y2="205.5" stroke="#1a1a1a" stroke-width="1"/>
<polygon points="469.5,207.27 467.65,210.49 471.35,210.49" fill="#1a1a1a"/>
<polygon points="474.1,209.77 472.25,212.99 475.95,212.99" fill="#1a1a1a"/>
<polygon points="478.9,211.17 477.05,214.39 480.75,214.39" fill="#1a1a1a"/>
<polygon points="483.1,209.07 481.25,212.29 484.95,212.29" fill="#1a1a1a"/>
<polygon points="474.1,218.17 472.25,221.39 475.95,221.39" fill="#1a1a1a"/>
<polygon points="478.9,217.67 477.05,220.89 480.75,220.89" fill="#1a1a1a"/>
<line x1="462.2" y1="213.5" x2="490.5" y2="213.5" stroke="#1a1a1a" stroke-width="1"/>
<text x="433.6" y="182.9" font-size="6.6" text-anchor="middle">**</text>
<text x="477.6" y="195.5" font-size="6.6" text-anchor="middle">***</text>
<text x="3.25" y="269" font-size="12.8" style="stroke-width:0.3" font-weight="bold">G</text>
<text x="49.4" y="266.6" font-size="6.45" style="stroke-width:0.05" textLength="105" lengthAdjust="spacingAndGlyphs">H3K27me3 levels in Pfeiffer tumors</text>
<line x1="32.5" y1="271.5" x2="32.5" y2="361.95" stroke="#1a1a1a" stroke-width="1"/>
<line x1="32.05" y1="361.5" x2="162.7" y2="361.5" stroke="#1a1a1a" stroke-width="1"/>
<line x1="30.2" y1="361.5" x2="32.5" y2="361.5" stroke="#1a1a1a" stroke-width="1"/>
<text x="29.6" y="363.4" font-size="6.6" text-anchor="end">0.0</text>
<line x1="30.2" y1="339.05" x2="32.5" y2="339.05" stroke="#1a1a1a" stroke-width="1"/>
<text x="29.6" y="340.95" font-size="6.6" text-anchor="end">0.5</text>
<line x1="30.2" y1="316.6" x2="32.5" y2="316.6" stroke="#1a1a1a" stroke-width="1"/>
<text x="29.6" y="318.5" font-size="6.6" text-anchor="end">1.0</text>
<line x1="30.2" y1="294.15" x2="32.5" y2="294.15" stroke="#1a1a1a" stroke-width="1"/>
<text x="29.6" y="296.05" font-size="6.6" text-anchor="end">1.5</text>
<line x1="30.2" y1="271.7" x2="32.5" y2="271.7" stroke="#1a1a1a" stroke-width="1"/>
<text x="29.6" y="273.6" font-size="6.6" text-anchor="end">2.0</text>
<text x="18.6" y="316.5" font-size="6.7" text-anchor="middle" transform="rotate(-90 18.6 316.5)">H3K27me3/H3</text>
<line x1="54.2" y1="361.5" x2="54.2" y2="363.5" stroke="#1a1a1a" stroke-width="1"/>
<line x1="98.3" y1="361.5" x2="98.3" y2="363.5" stroke="#1a1a1a" stroke-width="1"/>
<line x1="142.3" y1="361.5" x2="142.3" y2="363.5" stroke="#1a1a1a" stroke-width="1"/>
<text x="54.4" y="370.6" font-size="6.85" text-anchor="middle">Vehicle</text>
<text x="98.3" y="370.6" font-size="6.85" text-anchor="middle">40 mg/kg</text>
<text x="142.2" y="370.6" font-size="6.85" text-anchor="middle">100 mg/kg</text>
<line x1="88.2" y1="373" x2="158" y2="373" stroke="#1a1a1a" stroke-width="0.9"/>
<text x="121.4" y="380.3" font-size="6.6" text-anchor="middle">BR-001</text>
<circle cx="54.2" cy="286.9" r="1.8" fill="#1a1a1a"/>
<circle cx="54.2" cy="297.1" r="1.8" fill="#1a1a1a"/>
<circle cx="49.1" cy="317" r="1.8" fill="#1a1a1a"/>
<circle cx="54.2" cy="317.5" r="1.8" fill="#1a1a1a"/>
<circle cx="59.3" cy="315.3" r="1.8" fill="#1a1a1a"/>
<circle cx="54.2" cy="323.6" r="1.8" fill="#1a1a1a"/>
<line x1="39.8" y1="309.5" x2="69.2" y2="309.5" stroke="#1a1a1a" stroke-width="1"/>
<rect x="93.9" y="306.6" width="3.2" height="3.2" fill="#1a1a1a"/>
<rect x="98.8" y="311.7" width="3.2" height="3.2" fill="#1a1a1a"/>
<rect x="93.9" y="319.9" width="3.2" height="3.2" fill="#1a1a1a"/>
<rect x="98.8" y="319.9" width="3.2" height="3.2" fill="#1a1a1a"/>
<rect x="96.7" y="326.8" width="3.2" height="3.2" fill="#1a1a1a"/>
<rect x="96.7" y="340.3" width="3.2" height="3.2" fill="#1a1a1a"/>
<line x1="83.9" y1="321.5" x2="112.6" y2="321.5" stroke="#1a1a1a" stroke-width="1"/>
<polygon points="142.3,342.07 140.45,345.29 144.15,345.29" fill="#1a1a1a"/>
<polygon points="144.4,347.07 142.55,350.29 146.25,350.29" fill="#1a1a1a"/>
<polygon points="139.7,350.07 137.85,353.29 141.55,353.29" fill="#1a1a1a"/>
<line x1="128" y1="348.5" x2="157" y2="348.5" stroke="#1a1a1a" stroke-width="1"/>
<text x="142.4" y="334.3" font-size="6.6" text-anchor="middle">**</text>
<text x="179.7" y="269" font-size="12.8" style="stroke-width:0.3" font-weight="bold">H</text>
<line x1="206.5" y1="275.1" x2="206.5" y2="368.95" stroke="#1a1a1a" stroke-width="1"/>
<line x1="206.05" y1="368.5" x2="344.4" y2="368.5" stroke="#1a1a1a" stroke-width="1"/>
<line x1="204.2" y1="368.5" x2="206.5" y2="368.5" stroke="#1a1a1a" stroke-width="1"/>
<text x="203.6" y="370.3" font-size="6.3" text-anchor="end">0</text>
<line x1="204.2" y1="345.06" x2="206.5" y2="345.06" stroke="#1a1a1a" stroke-width="1"/>
<text x="203.6" y="346.86" font-size="6.3" text-anchor="end">2</text>
<line x1="204.2" y1="321.62" x2="206.5" y2="321.62" stroke="#1a1a1a" stroke-width="1"/>
<text x="203.6" y="323.42" font-size="6.3" text-anchor="end">4</text>
<line x1="204.2" y1="298.18" x2="206.5" y2="298.18" stroke="#1a1a1a" stroke-width="1"/>
<text x="203.6" y="299.98" font-size="6.3" text-anchor="end">6</text>
<line x1="204.2" y1="274.74" x2="206.5" y2="274.74" stroke="#1a1a1a" stroke-width="1"/>
<text x="203.6" y="276.54" font-size="6.3" text-anchor="end">8</text>
<text x="187.2" y="320.6" font-size="6.55" text-anchor="middle" transform="rotate(-90 187.2 320.6)">Relative gene expression</text>
<text x="194.2" y="319.2" font-size="6.55" text-anchor="middle" transform="rotate(-90 194.2 319.2)">(Folds of vehicle)</text>
<text x="222.8" y="263.9" font-size="6.5" style="stroke-width:0.05" textLength="104.8" lengthAdjust="spacingAndGlyphs">Derepression of PRC2 target genes</text>
<text x="244.7" y="271.3" font-size="6.5" style="stroke-width:0.05">in Karpas422 tumors</text>
<rect x="209.7" y="355.02" width="4.7" height="13.48" fill="#ffffff" stroke="#1a1a1a" stroke-width="0.55"/>
<line x1="212.05" y1="355.02" x2="212.05" y2="353.26" stroke="#444" stroke-width="0.6"/>
<line x1="211.05" y1="353.26" x2="213.05" y2="353.26" stroke="#444" stroke-width="0.6"/>
<rect x="215.8" y="345.06" width="4.7" height="23.44" fill="url(#pH2)" stroke="#1a1a1a" stroke-width="0.55"/>
<line x1="218.15" y1="345.06" x2="218.15" y2="340.37" stroke="#444" stroke-width="0.6"/>
<line x1="217.15" y1="340.37" x2="219.15" y2="340.37" stroke="#444" stroke-width="0.6"/>
<rect x="221.9" y="345.06" width="4.7" height="23.44" fill="url(#pH3)" stroke="#1a1a1a" stroke-width="0.55"/>
<line x1="224.25" y1="345.06" x2="224.25" y2="341.54" stroke="#444" stroke-width="0.6"/>
<line x1="223.25" y1="341.54" x2="225.25" y2="341.54" stroke="#444" stroke-width="0.6"/>
<line x1="218" y1="368.5" x2="218" y2="370.4" stroke="#1a1a1a" stroke-width="1"/>
<text x="218.5" y="379.4" font-size="6.8" text-anchor="middle">RTP4</text>
<rect x="232.45" y="356.19" width="4.7" height="12.31" fill="#ffffff" stroke="#1a1a1a" stroke-width="0.55"/>
<line x1="234.8" y1="356.19" x2="234.8" y2="355.61" stroke="#444" stroke-width="0.6"/>
<line x1="233.8" y1="355.61" x2="235.8" y2="355.61" stroke="#444" stroke-width="0.6"/>
<rect x="238.55" y="347.99" width="4.7" height="20.51" fill="url(#pH2)" stroke="#1a1a1a" stroke-width="0.55"/>
<line x1="240.9" y1="347.99" x2="240.9" y2="346.23" stroke="#444" stroke-width="0.6"/>
<line x1="239.9" y1="346.23" x2="241.9" y2="346.23" stroke="#444" stroke-width="0.6"/>
<rect x="244.65" y="345.06" width="4.7" height="23.44" fill="url(#pH3)" stroke="#1a1a1a" stroke-width="0.55"/>
<line x1="247" y1="345.06" x2="247" y2="336.86" stroke="#444" stroke-width="0.6"/>
<line x1="246" y1="336.86" x2="248" y2="336.86" stroke="#444" stroke-width="0.6"/>
<line x1="240.75" y1="368.5" x2="240.75" y2="370.4" stroke="#1a1a1a" stroke-width="1"/>
<text x="241.25" y="379.4" font-size="6.8" text-anchor="middle">CASP1</text>
<rect x="255.2" y="360.3" width="4.7" height="8.2" fill="#ffffff" stroke="#1a1a1a" stroke-width="0.55"/>
<line x1="257.55" y1="360.3" x2="257.55" y2="356.19" stroke="#444" stroke-width="0.6"/>
<line x1="256.55" y1="356.19" x2="258.55" y2="356.19" stroke="#444" stroke-width="0.6"/>
<rect x="261.3" y="360.88" width="4.7" height="7.62" fill="url(#pH2)" stroke="#1a1a1a" stroke-width="0.55"/>
<line x1="263.65" y1="360.88" x2="263.65" y2="359.12" stroke="#444" stroke-width="0.6"/>
<line x1="262.65" y1="359.12" x2="264.65" y2="359.12" stroke="#444" stroke-width="0.6"/>
<rect x="267.4" y="360.88" width="4.7" height="7.62" fill="url(#pH3)" stroke="#1a1a1a" stroke-width="0.55"/>
<line x1="269.75" y1="360.88" x2="269.75" y2="358.54" stroke="#444" stroke-width="0.6"/>
<line x1="268.75" y1="358.54" x2="270.75" y2="358.54" stroke="#444" stroke-width="0.6"/>
<line x1="263.5" y1="368.5" x2="263.5" y2="370.4" stroke="#1a1a1a" stroke-width="1"/>
<text x="264" y="379.4" font-size="6.8" text-anchor="middle">SPP1</text>
<rect x="277.95" y="355.96" width="4.7" height="12.54" fill="#ffffff" stroke="#1a1a1a" stroke-width="0.55"/>
<line x1="280.3" y1="355.96" x2="280.3" y2="353.85" stroke="#444" stroke-width="0.6"/>
<line x1="279.3" y1="353.85" x2="281.3" y2="353.85" stroke="#444" stroke-width="0.6"/>
<rect x="284.05" y="333.34" width="4.7" height="35.16" fill="url(#pH2)" stroke="#1a1a1a" stroke-width="0.55"/>
<line x1="286.4" y1="333.34" x2="286.4" y2="329.82" stroke="#444" stroke-width="0.6"/>
<line x1="285.4" y1="329.82" x2="287.4" y2="329.82" stroke="#444" stroke-width="0.6"/>
<rect x="290.15" y="323.96" width="4.7" height="44.54" fill="url(#pH3)" stroke="#1a1a1a" stroke-width="0.55"/>
<line x1="292.5" y1="323.96" x2="292.5" y2="318.1" stroke="#444" stroke-width="0.6"/>
<line x1="291.5" y1="318.1" x2="293.5" y2="318.1" stroke="#444" stroke-width="0.6"/>
<line x1="286.25" y1="368.5" x2="286.25" y2="370.4" stroke="#1a1a1a" stroke-width="1"/>
<text x="286.75" y="379.4" font-size="6.8" text-anchor="middle">CTSO</text>
<rect x="300.7" y="362.05" width="4.7" height="6.45" fill="#ffffff" stroke="#1a1a1a" stroke-width="0.55"/>
<line x1="303.05" y1="362.05" x2="303.05" y2="356.78" stroke="#444" stroke-width="0.6"/>
<line x1="302.05" y1="356.78" x2="304.05" y2="356.78" stroke="#444" stroke-width="0.6"/>
<rect x="306.8" y="356.78" width="4.7" height="11.72" fill="url(#pH2)" stroke="#1a1a1a" stroke-width="0.55"/>
<line x1="309.15" y1="356.78" x2="309.15" y2="349.75" stroke="#444" stroke-width="0.6"/>
<line x1="308.15" y1="349.75" x2="310.15" y2="349.75" stroke="#444" stroke-width="0.6"/>
<rect x="312.9" y="347.99" width="4.7" height="20.51" fill="url(#pH3)" stroke="#1a1a1a" stroke-width="0.55"/>
<line x1="315.25" y1="347.99" x2="315.25" y2="339.2" stroke="#444" stroke-width="0.6"/>
<line x1="314.25" y1="339.2" x2="316.25" y2="339.2" stroke="#444" stroke-width="0.6"/>
<line x1="309" y1="368.5" x2="309" y2="370.4" stroke="#1a1a1a" stroke-width="1"/>
<text x="309.5" y="379.4" font-size="6.8" text-anchor="middle">CD86</text>
<rect x="323.45" y="359.71" width="4.7" height="8.79" fill="#ffffff" stroke="#1a1a1a" stroke-width="0.55"/>
<line x1="325.8" y1="359.71" x2="325.8" y2="356.19" stroke="#444" stroke-width="0.6"/>
<line x1="324.8" y1="356.19" x2="326.8" y2="356.19" stroke="#444" stroke-width="0.6"/>
<rect x="329.55" y="339.2" width="4.7" height="29.3" fill="url(#pH2)" stroke="#1a1a1a" stroke-width="0.55"/>
<line x1="331.9" y1="339.2" x2="331.9" y2="325.14" stroke="#444" stroke-width="0.6"/>
<line x1="330.9" y1="325.14" x2="332.9" y2="325.14" stroke="#444" stroke-width="0.6"/>
<rect x="335.65" y="328.65" width="4.7" height="39.85" fill="url(#pH3)" stroke="#1a1a1a" stroke-width="0.55"/>
<line x1="338" y1="328.65" x2="338" y2="311.07" stroke="#444" stroke-width="0.6"/>
<line x1="337" y1="311.07" x2="339" y2="311.07" stroke="#444" stroke-width="0.6"/>
<line x1="331.75" y1="368.5" x2="331.75" y2="370.4" stroke="#1a1a1a" stroke-width="1"/>
<text x="332.25" y="379.4" font-size="6.8" text-anchor="middle">P16</text>
<rect x="285.9" y="280.4" width="9.4" height="2.4" fill="#ffffff" stroke="#1a1a1a" stroke-width="0.45"/>
<text x="0" y="0" font-size="4.9" transform="translate(297 284) scale(1.12 1)" style="stroke-width:0.1">Vehicle</text>
<rect x="285.9" y="286.2" width="9.4" height="2.4" fill="url(#pH2)" stroke="#1a1a1a" stroke-width="0.45"/>
<text x="0" y="0" font-size="4.9" transform="translate(297 289.5) scale(1.12 1)" style="stroke-width:0.1">BR-001(40mpk)</text>
<rect x="285.9" y="291.5" width="9.4" height="2.4" fill="url(#pH3)" stroke="#1a1a1a" stroke-width="0.45"/>
<text x="0" y="0" font-size="4.9" transform="translate(297 295) scale(1.12 1)" style="stroke-width:0.1">BR-001(100mpk)</text>
<text x="349.6" y="265.6" font-size="12.8" style="stroke-width:0.3" font-weight="bold">I</text>
<line x1="381.5" y1="272.1" x2="381.5" y2="369.95" stroke="#1a1a1a" stroke-width="1"/>
<line x1="381.05" y1="369.5" x2="520" y2="369.5" stroke="#1a1a1a" stroke-width="1"/>
<line x1="379.2" y1="369.5" x2="381.5" y2="369.5" stroke="#1a1a1a" stroke-width="1"/>
<text x="377.7" y="371.6" font-size="6.1" text-anchor="end">0</text>
<line x1="379.2" y1="349.95" x2="381.5" y2="349.95" stroke="#1a1a1a" stroke-width="1"/>
<text x="377.7" y="352.05" font-size="6.1" text-anchor="end">30</text>
<line x1="379.2" y1="330.4" x2="381.5" y2="330.4" stroke="#1a1a1a" stroke-width="1"/>
<text x="377.7" y="332.5" font-size="6.1" text-anchor="end">60</text>
<line x1="379.2" y1="310.85" x2="381.5" y2="310.85" stroke="#1a1a1a" stroke-width="1"/>
<text x="377.7" y="312.95" font-size="6.1" text-anchor="end">90</text>
<line x1="379.2" y1="291.3" x2="381.5" y2="291.3" stroke="#1a1a1a" stroke-width="1"/>
<text x="377.7" y="293.4" font-size="6.1" text-anchor="end">120</text>
<line x1="379.2" y1="271.75" x2="381.5" y2="271.75" stroke="#1a1a1a" stroke-width="1"/>
<text x="377.7" y="273.85" font-size="6.1" text-anchor="end">150</text>
<text x="356.4" y="323.4" font-size="6.55" text-anchor="middle" transform="rotate(-90 356.4 323.4)">Relative gene expression</text>
<text x="364.4" y="322.7" font-size="6.55" text-anchor="middle" transform="rotate(-90 364.4 322.7)">(Folds of vehicle)</text>
<text x="397.8" y="263.9" font-size="6.5" style="stroke-width:0.05" textLength="104.8" lengthAdjust="spacingAndGlyphs">Derepression of PRC2 target genes</text>
<text x="424.9" y="271.3" font-size="6.5" style="stroke-width:0.05">in Pfeiffer tumors</text>
<rect x="384.7" y="368.85" width="4.7" height="0.65" fill="#ffffff" stroke="#1a1a1a" stroke-width="0.55"/>
<rect x="390.8" y="361.03" width="4.7" height="8.47" fill="url(#pH2)" stroke="#1a1a1a" stroke-width="0.55"/>
<line x1="393.15" y1="361.03" x2="393.15" y2="360.05" stroke="#444" stroke-width="0.6"/>
<line x1="392.15" y1="360.05" x2="394.15" y2="360.05" stroke="#444" stroke-width="0.6"/>
<rect x="396.9" y="343.43" width="4.7" height="26.07" fill="url(#pH3)" stroke="#1a1a1a" stroke-width="0.55"/>
<line x1="399.25" y1="343.43" x2="399.25" y2="338.22" stroke="#444" stroke-width="0.6"/>
<line x1="398.25" y1="338.22" x2="400.25" y2="338.22" stroke="#444" stroke-width="0.6"/>
<line x1="393" y1="369.5" x2="393" y2="371.4" stroke="#1a1a1a" stroke-width="1"/>
<text x="393.5" y="379.4" font-size="6.45" text-anchor="middle">RTP4</text>
<rect x="407.7" y="368.85" width="4.7" height="0.65" fill="#ffffff" stroke="#1a1a1a" stroke-width="0.55"/>
<rect x="413.8" y="338.87" width="4.7" height="30.63" fill="url(#pH2)" stroke="#1a1a1a" stroke-width="0.55"/>
<line x1="416.15" y1="338.87" x2="416.15" y2="334.96" stroke="#444" stroke-width="0.6"/>
<line x1="415.15" y1="334.96" x2="417.15" y2="334.96" stroke="#444" stroke-width="0.6"/>
<rect x="419.9" y="291.3" width="4.7" height="78.2" fill="url(#pH3)" stroke="#1a1a1a" stroke-width="0.55"/>
<line x1="422.25" y1="291.3" x2="422.25" y2="280.22" stroke="#444" stroke-width="0.6"/>
<line x1="421.25" y1="280.22" x2="423.25" y2="280.22" stroke="#444" stroke-width="0.6"/>
<line x1="416" y1="369.5" x2="416" y2="371.4" stroke="#1a1a1a" stroke-width="1"/>
<text x="416.5" y="379.4" font-size="6.45" text-anchor="middle">CASP1</text>
<rect x="430.7" y="368.85" width="4.7" height="0.65" fill="#ffffff" stroke="#1a1a1a" stroke-width="0.55"/>
<rect x="436.8" y="362.98" width="4.7" height="6.52" fill="url(#pH2)" stroke="#1a1a1a" stroke-width="0.55"/>
<line x1="439.15" y1="362.98" x2="439.15" y2="362.33" stroke="#444" stroke-width="0.6"/>
<line x1="438.15" y1="362.33" x2="440.15" y2="362.33" stroke="#444" stroke-width="0.6"/>
<rect x="442.9" y="361.68" width="4.7" height="7.82" fill="url(#pH3)" stroke="#1a1a1a" stroke-width="0.55"/>
<line x1="445.25" y1="361.68" x2="445.25" y2="361.03" stroke="#444" stroke-width="0.6"/>
<line x1="444.25" y1="361.03" x2="446.25" y2="361.03" stroke="#444" stroke-width="0.6"/>
<line x1="439" y1="369.5" x2="439" y2="371.4" stroke="#1a1a1a" stroke-width="1"/>
<text x="439.5" y="379.4" font-size="6.45" text-anchor="middle">SPP1</text>
<rect x="453.7" y="368.85" width="4.7" height="0.65" fill="#ffffff" stroke="#1a1a1a" stroke-width="0.55"/>
<rect x="459.8" y="360.38" width="4.7" height="9.12" fill="url(#pH2)" stroke="#1a1a1a" stroke-width="0.55"/>
<line x1="462.15" y1="360.38" x2="462.15" y2="359.73" stroke="#444" stroke-width="0.6"/>
<line x1="461.15" y1="359.73" x2="463.15" y2="359.73" stroke="#444" stroke-width="0.6"/>
<rect x="465.9" y="346.69" width="4.7" height="22.81" fill="url(#pH3)" stroke="#1a1a1a" stroke-width="0.55"/>
<line x1="468.25" y1="346.69" x2="468.25" y2="342.13" stroke="#444" stroke-width="0.6"/>
<line x1="467.25" y1="342.13" x2="469.25" y2="342.13" stroke="#444" stroke-width="0.6"/>
<line x1="462" y1="369.5" x2="462" y2="371.4" stroke="#1a1a1a" stroke-width="1"/>
<text x="462.5" y="379.4" font-size="6.45" text-anchor="middle">CTSO</text>
<rect x="476.7" y="362.98" width="4.7" height="6.52" fill="#ffffff" stroke="#1a1a1a" stroke-width="0.55"/>
<line x1="479.05" y1="362.98" x2="479.05" y2="361.68" stroke="#444" stroke-width="0.6"/>
<line x1="478.05" y1="361.68" x2="480.05" y2="361.68" stroke="#444" stroke-width="0.6"/>
<rect x="482.8" y="362.98" width="4.7" height="6.52" fill="url(#pH2)" stroke="#1a1a1a" stroke-width="0.55"/>
<line x1="485.15" y1="362.98" x2="485.15" y2="361.68" stroke="#444" stroke-width="0.6"/>
<line x1="484.15" y1="361.68" x2="486.15" y2="361.68" stroke="#444" stroke-width="0.6"/>
<rect x="488.9" y="357.77" width="4.7" height="11.73" fill="url(#pH3)" stroke="#1a1a1a" stroke-width="0.55"/>
<line x1="491.25" y1="357.77" x2="491.25" y2="352.56" stroke="#444" stroke-width="0.6"/>
<line x1="490.25" y1="352.56" x2="492.25" y2="352.56" stroke="#444" stroke-width="0.6"/>
<line x1="485" y1="369.5" x2="485" y2="371.4" stroke="#1a1a1a" stroke-width="1"/>
<text x="485.5" y="379.4" font-size="6.45" text-anchor="middle">CD86</text>
<rect x="499.7" y="368.85" width="4.7" height="0.65" fill="#ffffff" stroke="#1a1a1a" stroke-width="0.55"/>
<rect x="505.8" y="368.85" width="4.7" height="0.65" fill="url(#pH2)" stroke="#1a1a1a" stroke-width="0.55"/>
<rect x="511.9" y="366.24" width="4.7" height="3.26" fill="url(#pH3)" stroke="#1a1a1a" stroke-width="0.55"/>
<line x1="514.25" y1="366.24" x2="514.25" y2="365.59" stroke="#444" stroke-width="0.6"/>
<line x1="513.25" y1="365.59" x2="515.25" y2="365.59" stroke="#444" stroke-width="0.6"/>
<line x1="508" y1="369.5" x2="508" y2="371.4" stroke="#1a1a1a" stroke-width="1"/>
<text x="508.5" y="379.4" font-size="6.45" text-anchor="middle">P16</text>
<rect x="457.5" y="282.1" width="9.4" height="2.4" fill="#ffffff" stroke="#1a1a1a" stroke-width="0.45"/>
<text x="0" y="0" font-size="5.1" transform="translate(469.3 285.5) scale(1.08 1)" style="stroke-width:0.1">Vehicle</text>
<rect x="457.5" y="287.6" width="9.4" height="2.4" fill="url(#pH2)" stroke="#1a1a1a" stroke-width="0.45"/>
<text x="0" y="0" font-size="5.1" transform="translate(469.3 291) scale(1.08 1)" style="stroke-width:0.1">BR-001(40mpk)</text>
<rect x="457.5" y="293.3" width="9.4" height="2.4" fill="url(#pH3)" stroke="#1a1a1a" stroke-width="0.45"/>
<text x="0" y="0" font-size="5.1" transform="translate(469.3 296.7) scale(1.08 1)" style="stroke-width:0.1">BR-001(100mpk)</text></svg>
</body></html>
